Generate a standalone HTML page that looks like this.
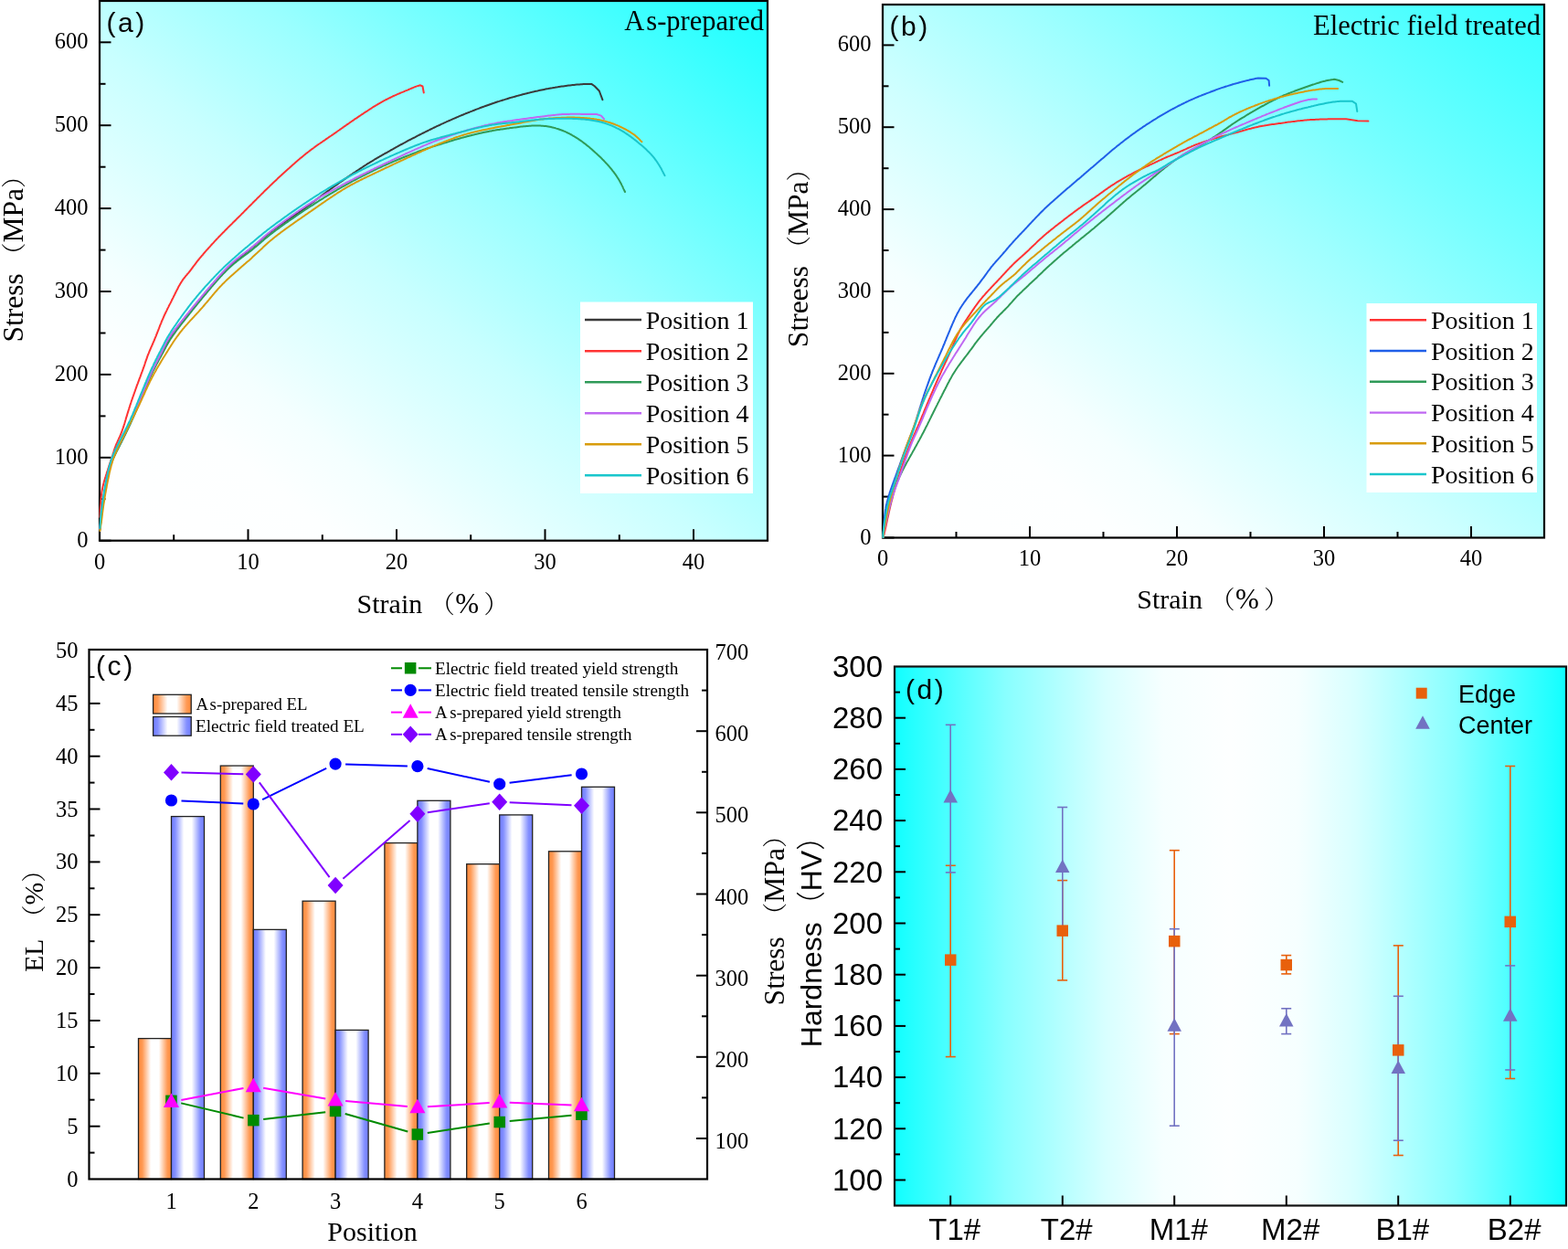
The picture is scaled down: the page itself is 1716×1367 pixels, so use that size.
<!DOCTYPE html><html><head><meta charset="utf-8"><title>Figure</title><style>html,body{margin:0;padding:0;background:#fff;}svg{display:block;}</style></head><body>
<svg width="1716" height="1367" viewBox="0 0 1716 1367">
<defs>
<linearGradient id="gA" x1="0" y1="1" x2="1" y2="0"><stop offset="0" stop-color="#ffffff"/><stop offset="0.18" stop-color="#fdffff"/><stop offset="0.26" stop-color="#f4ffff"/><stop offset="0.46" stop-color="#c8ffff"/><stop offset="0.62" stop-color="#9affff"/><stop offset="0.79" stop-color="#60ffff"/><stop offset="0.94" stop-color="#2cffff"/><stop offset="1" stop-color="#1affff"/></linearGradient>
<linearGradient id="gB2" x1="0" y1="1" x2="1" y2="0"><stop offset="0" stop-color="#ffffff"/><stop offset="0.18" stop-color="#fdffff"/><stop offset="0.26" stop-color="#f5ffff"/><stop offset="0.44" stop-color="#ccffff"/><stop offset="0.6" stop-color="#a0ffff"/><stop offset="0.75" stop-color="#74ffff"/><stop offset="0.92" stop-color="#46ffff"/><stop offset="1" stop-color="#34ffff"/></linearGradient>
<linearGradient id="gD" x1="0" y1="0" x2="1" y2="0"><stop offset="0" stop-color="#10ffff"/><stop offset="0.02" stop-color="#20ffff"/><stop offset="0.165" stop-color="#88ffff"/><stop offset="0.314" stop-color="#d8ffff"/><stop offset="0.4" stop-color="#f6ffff"/><stop offset="0.5" stop-color="#fdffff"/><stop offset="0.6" stop-color="#f6ffff"/><stop offset="0.686" stop-color="#d8ffff"/><stop offset="0.835" stop-color="#88ffff"/><stop offset="0.98" stop-color="#20ffff"/><stop offset="1" stop-color="#10ffff"/></linearGradient>
<linearGradient id="gO" x1="0" y1="0" x2="1" y2="0"><stop offset="0" stop-color="#ff8a3a"/><stop offset="0.12" stop-color="#ff9a55"/><stop offset="0.38" stop-color="#ffffff"/><stop offset="0.62" stop-color="#ffffff"/><stop offset="0.88" stop-color="#ff9a55"/><stop offset="1" stop-color="#ff8a3a"/></linearGradient>
<linearGradient id="gB" x1="0" y1="0" x2="1" y2="0"><stop offset="0" stop-color="#6f7cff"/><stop offset="0.12" stop-color="#8490ff"/><stop offset="0.38" stop-color="#ffffff"/><stop offset="0.62" stop-color="#ffffff"/><stop offset="0.88" stop-color="#8490ff"/><stop offset="1" stop-color="#6f7cff"/></linearGradient>
</defs>
<rect x="109" y="1" width="731" height="590.7" fill="url(#gA)"/>
<rect x="109" y="1" width="731" height="590.7" fill="none" stroke="#000" stroke-width="2.2"/>
<line x1="109" y1="591.7" x2="121.5" y2="591.7" stroke="#000" stroke-width="2"/>
<text x="96.5" y="598.7" font-family='"Liberation Serif", "Noto Serif CJK SC", serif' font-size="24.5" text-anchor="end" fill="#000" >0</text>
<line x1="109" y1="546.2" x2="115.5" y2="546.2" stroke="#000" stroke-width="2"/>
<line x1="109" y1="500.8" x2="121.5" y2="500.8" stroke="#000" stroke-width="2"/>
<text x="96.5" y="507.8" font-family='"Liberation Serif", "Noto Serif CJK SC", serif' font-size="24.5" text-anchor="end" fill="#000" >100</text>
<line x1="109" y1="455.4" x2="115.5" y2="455.4" stroke="#000" stroke-width="2"/>
<line x1="109" y1="409.9" x2="121.5" y2="409.9" stroke="#000" stroke-width="2"/>
<text x="96.5" y="416.9" font-family='"Liberation Serif", "Noto Serif CJK SC", serif' font-size="24.5" text-anchor="end" fill="#000" >200</text>
<line x1="109" y1="364.5" x2="115.5" y2="364.5" stroke="#000" stroke-width="2"/>
<line x1="109" y1="319" x2="121.5" y2="319" stroke="#000" stroke-width="2"/>
<text x="96.5" y="326" font-family='"Liberation Serif", "Noto Serif CJK SC", serif' font-size="24.5" text-anchor="end" fill="#000" >300</text>
<line x1="109" y1="273.6" x2="115.5" y2="273.6" stroke="#000" stroke-width="2"/>
<line x1="109" y1="228.1" x2="121.5" y2="228.1" stroke="#000" stroke-width="2"/>
<text x="96.5" y="235.1" font-family='"Liberation Serif", "Noto Serif CJK SC", serif' font-size="24.5" text-anchor="end" fill="#000" >400</text>
<line x1="109" y1="182.7" x2="115.5" y2="182.7" stroke="#000" stroke-width="2"/>
<line x1="109" y1="137.2" x2="121.5" y2="137.2" stroke="#000" stroke-width="2"/>
<text x="96.5" y="144.2" font-family='"Liberation Serif", "Noto Serif CJK SC", serif' font-size="24.5" text-anchor="end" fill="#000" >500</text>
<line x1="109" y1="91.8" x2="115.5" y2="91.8" stroke="#000" stroke-width="2"/>
<line x1="109" y1="46.3" x2="121.5" y2="46.3" stroke="#000" stroke-width="2"/>
<text x="96.5" y="53.3" font-family='"Liberation Serif", "Noto Serif CJK SC", serif' font-size="24.5" text-anchor="end" fill="#000" >600</text>
<text x="109" y="623" font-family='"Liberation Serif", "Noto Serif CJK SC", serif' font-size="24.5" text-anchor="middle" fill="#000" >0</text>
<line x1="190.2" y1="591.7" x2="190.2" y2="585.2" stroke="#000" stroke-width="2"/>
<line x1="271.5" y1="591.7" x2="271.5" y2="579.2" stroke="#000" stroke-width="2"/>
<text x="271.5" y="623" font-family='"Liberation Serif", "Noto Serif CJK SC", serif' font-size="24.5" text-anchor="middle" fill="#000" >10</text>
<line x1="352.8" y1="591.7" x2="352.8" y2="585.2" stroke="#000" stroke-width="2"/>
<line x1="434" y1="591.7" x2="434" y2="579.2" stroke="#000" stroke-width="2"/>
<text x="434" y="623" font-family='"Liberation Serif", "Noto Serif CJK SC", serif' font-size="24.5" text-anchor="middle" fill="#000" >20</text>
<line x1="515.2" y1="591.7" x2="515.2" y2="585.2" stroke="#000" stroke-width="2"/>
<line x1="596.5" y1="591.7" x2="596.5" y2="579.2" stroke="#000" stroke-width="2"/>
<text x="596.5" y="623" font-family='"Liberation Serif", "Noto Serif CJK SC", serif' font-size="24.5" text-anchor="middle" fill="#000" >30</text>
<line x1="677.8" y1="591.7" x2="677.8" y2="585.2" stroke="#000" stroke-width="2"/>
<line x1="759" y1="591.7" x2="759" y2="579.2" stroke="#000" stroke-width="2"/>
<text x="759" y="623" font-family='"Liberation Serif", "Noto Serif CJK SC", serif' font-size="24.5" text-anchor="middle" fill="#000" >40</text>
<path d="M109.4 579 L109.6 577.4 L109.7 575.8 L109.9 574.3 L110 572.9 L110.2 571.4 L110.4 570 L110.5 568.5 L110.7 567 L110.9 565.6 L111 564.1 L111.2 562.6 L111.4 561.1 L111.5 559.6 L111.7 558.1 L111.9 556.6 L112.1 555.1 L112.2 553.7 L112.4 552.2 L112.6 550.7 L112.8 549.2 L113 547.7 L113.2 546.2 L113.5 544.7 L113.7 543.3 L113.9 541.8 L114.2 540.3 L114.4 538.8 L114.7 537.3 L114.9 535.9 L115.2 534.4 L115.5 532.9 L115.7 531.4 L116 530 L116.3 528.5 L116.6 527 L116.9 525.5 L117.2 524.1 L117.5 522.6 L117.8 521.1 L118.1 519.7 L118.5 518.2 L118.8 516.8 L119.2 515.3 L119.5 513.8 L119.9 512.4 L120.3 511 L120.8 509.5 L121.2 508.1 L121.7 506.7 L122.2 505.3 L122.7 503.9 L123.3 502.5 L123.9 501.1 L124.5 499.7 L125.1 498.4 L125.8 497 L126.4 495.7 L127.1 494.4 L127.8 493 L128.5 491.7 L129.1 490.3 L129.8 489 L130.5 487.7 L131.2 486.3 L131.9 485 L132.5 483.7 L133.2 482.3 L133.9 481 L134.6 479.6 L135.2 478.3 L135.9 476.9 L136.6 475.6 L137.2 474.3 L137.9 472.9 L138.5 471.6 L139.2 470.2 L139.8 468.9 L140.5 467.5 L141.1 466.2 L141.8 464.8 L142.4 463.4 L143 462.1 L143.7 460.7 L144.3 459.3 L144.9 458 L145.5 456.6 L146.1 455.2 L146.7 453.8 L147.3 452.5 L147.9 451.1 L148.5 449.7 L149.1 448.3 L149.7 447 L150.3 445.6 L150.8 444.2 L151.4 442.8 L152 441.4 L152.6 440.1 L153.2 438.7 L153.8 437.3 L154.3 435.9 L154.9 434.5 L155.5 433.1 L156.1 431.8 L156.6 430.4 L157.2 429 L157.8 427.6 L158.3 426.2 L158.9 424.8 L159.5 423.4 L160.1 422 L160.6 420.7 L161.2 419.3 L161.8 417.9 L162.4 416.5 L163 415.1 L163.6 413.7 L164.2 412.4 L164.8 411 L165.4 409.6 L166 408.3 L166.6 406.9 L167.3 405.6 L167.9 404.2 L168.6 402.9 L169.2 401.5 L169.9 400.2 L170.6 398.8 L171.3 397.5 L171.9 396.1 L172.6 394.8 L173.3 393.5 L174 392.1 L174.7 390.8 L175.4 389.5 L176.1 388.1 L176.8 386.8 L177.4 385.5 L178.1 384.1 L178.7 382.8 L179.4 381.4 L180 380.1 L180.7 378.7 L181.4 377.4 L182.1 376.1 L182.8 374.7 L183.5 373.4 L184.2 372.1 L185 370.9 L185.8 369.6 L186.6 368.3 L187.4 367.1 L188.3 365.9 L189.2 364.6 L190 363.4 L190.9 362.2 L191.8 361 L192.8 359.8 L193.7 358.6 L194.6 357.5 L195.5 356.3 L196.4 355.1 L197.4 353.9 L198.3 352.8 L199.3 351.6 L200.2 350.4 L201.1 349.2 L202.1 348.1 L203 346.9 L204 345.8 L204.9 344.6 L205.9 343.4 L206.8 342.3 L207.8 341.1 L208.7 340 L209.7 338.8 L210.6 337.6 L211.6 336.5 L212.5 335.3 L213.5 334.2 L214.5 333 L215.4 331.9 L216.4 330.7 L217.4 329.6 L218.3 328.4 L219.3 327.3 L220.3 326.1 L221.2 325 L222.2 323.8 L223.2 322.7 L224.1 321.5 L225.1 320.4 L226.1 319.3 L227.1 318.1 L228 317 L229 315.9 L230 314.7 L231 313.6 L232 312.4 L232.9 311.3 L233.9 310.2 L234.9 309.1 L235.9 307.9 L236.9 306.8 L237.9 305.7 L238.9 304.6 L239.9 303.5 L240.9 302.4 L241.9 301.3 L243 300.2 L244 299.1 L245 298 L246.1 296.9 L247.1 295.8 L248.2 294.7 L249.2 293.7 L250.3 292.6 L251.4 291.6 L252.4 290.5 L253.5 289.5 L254.6 288.5 L255.7 287.5 L256.9 286.5 L258 285.5 L259.1 284.5 L260.3 283.6 L261.4 282.6 L262.6 281.6 L263.7 280.7 L264.9 279.8 L266.1 278.8 L267.3 277.9 L268.4 277 L269.6 276 L270.8 275.1 L271.9 274.1 L273.1 273.2 L274.3 272.3 L275.4 271.3 L276.6 270.3 L277.7 269.4 L278.9 268.4 L280 267.4 L281.2 266.5 L282.3 265.5 L283.4 264.5 L284.6 263.5 L285.7 262.6 L286.9 261.6 L288 260.6 L289.2 259.7 L290.3 258.7 L291.5 257.8 L292.6 256.8 L293.8 255.9 L295 254.9 L296.2 254 L297.4 253.1 L298.5 252.2 L299.7 251.3 L300.9 250.4 L302.2 249.5 L303.4 248.6 L304.6 247.7 L305.8 246.9 L307 246 L308.3 245.1 L309.5 244.3 L310.7 243.4 L312 242.6 L313.2 241.7 L314.4 240.9 L315.7 240 L316.9 239.2 L318.1 238.3 L319.4 237.5 L320.6 236.6 L321.9 235.8 L323.1 235 L324.3 234.1 L325.6 233.3 L326.8 232.4 L328.1 231.6 L329.3 230.7 L330.5 229.9 L331.8 229 L333 228.1 L334.2 227.3 L335.4 226.4 L336.6 225.5 L337.9 224.6 L339.1 223.8 L340.3 222.9 L341.5 222 L342.7 221.1 L343.9 220.2 L345.1 219.3 L346.3 218.4 L347.5 217.5 L348.7 216.6 L349.9 215.7 L351.1 214.8 L352.3 213.9 L353.5 213 L354.7 212.1 L355.9 211.2 L357.1 210.3 L358.3 209.4 L359.6 208.6 L360.8 207.7 L362 206.8 L363.2 205.9 L364.4 205 L365.6 204.2 L366.9 203.3 L368.1 202.4 L369.3 201.6 L370.5 200.7 L371.8 199.8 L373 199 L374.2 198.1 L375.5 197.3 L376.7 196.4 L377.9 195.6 L379.2 194.7 L380.4 193.9 L381.6 193 L382.9 192.2 L384.1 191.3 L385.4 190.5 L386.6 189.6 L387.8 188.8 L389.1 188 L390.3 187.1 L391.6 186.3 L392.8 185.5 L394.1 184.6 L395.3 183.8 L396.6 183 L397.8 182.2 L399.1 181.3 L400.4 180.5 L401.6 179.7 L402.9 178.9 L404.2 178.1 L405.4 177.3 L406.7 176.6 L408 175.8 L409.3 175 L410.6 174.2 L411.9 173.5 L413.2 172.7 L414.5 172 L415.8 171.2 L417.1 170.5 L418.4 169.7 L419.7 169 L421 168.2 L422.3 167.5 L423.6 166.8 L424.9 166 L426.2 165.3 L427.5 164.5 L428.8 163.8 L430.1 163.1 L431.4 162.3 L432.7 161.6 L434 160.9 L435.4 160.2 L436.7 159.4 L438 158.7 L439.3 158 L440.6 157.3 L441.9 156.6 L443.3 155.9 L444.6 155.2 L445.9 154.4 L447.2 153.7 L448.6 153 L449.9 152.3 L451.2 151.6 L452.5 151 L453.9 150.3 L455.2 149.6 L456.5 148.9 L457.9 148.2 L459.2 147.5 L460.6 146.8 L461.9 146.2 L463.2 145.5 L464.6 144.8 L465.9 144.1 L467.3 143.5 L468.6 142.8 L470 142.2 L471.3 141.5 L472.7 140.8 L474 140.2 L475.4 139.5 L476.7 138.9 L478.1 138.2 L479.4 137.6 L480.8 137 L482.1 136.3 L483.5 135.7 L484.9 135.1 L486.2 134.4 L487.6 133.8 L488.9 133.2 L490.3 132.6 L491.7 132 L493.1 131.4 L494.4 130.8 L495.8 130.2 L497.2 129.6 L498.6 129 L499.9 128.4 L501.3 127.8 L502.7 127.2 L504.1 126.6 L505.5 126 L506.9 125.5 L508.2 124.9 L509.6 124.3 L511 123.8 L512.4 123.2 L513.8 122.7 L515.2 122.1 L516.6 121.6 L518 121 L519.4 120.5 L520.8 119.9 L522.2 119.4 L523.6 118.9 L525 118.3 L526.4 117.8 L527.8 117.3 L529.2 116.8 L530.6 116.2 L532 115.7 L533.5 115.2 L534.9 114.7 L536.3 114.2 L537.7 113.7 L539.1 113.2 L540.5 112.8 L542 112.3 L543.4 111.8 L544.8 111.3 L546.2 110.9 L547.7 110.4 L549.1 110 L550.5 109.5 L551.9 109.1 L553.4 108.6 L554.8 108.2 L556.3 107.7 L557.7 107.3 L559.1 106.9 L560.6 106.5 L562 106.1 L563.5 105.7 L564.9 105.3 L566.3 104.9 L567.8 104.5 L569.2 104.1 L570.7 103.7 L572.1 103.3 L573.6 102.9 L575.1 102.6 L576.5 102.2 L578 101.8 L579.4 101.5 L580.9 101.1 L582.3 100.8 L583.8 100.4 L585.3 100.1 L586.7 99.8 L588.2 99.5 L589.7 99.1 L591.1 98.8 L592.6 98.5 L594.1 98.2 L595.5 97.9 L597 97.6 L598.5 97.3 L600 97.1 L601.4 96.8 L602.9 96.5 L604.4 96.3 L605.9 96 L607.3 95.8 L608.8 95.5 L610.3 95.3 L611.8 95 L613.3 94.8 L614.7 94.6 L616.2 94.4 L617.7 94.2 L619.2 94 L620.7 93.8 L622.2 93.6 L623.7 93.4 L625.2 93.2 L626.6 93 L628.1 92.9 L629.6 92.7 L631.1 92.6 L632.6 92.5 L634.1 92.4 L635.6 92.3 L637 92.2 L638.5 92.1 L640 92.1 L641.4 92.1 L642.9 92.1 L644.4 92.1 L646 92.1 L647.6 92.1 L650.7 94.3 L655.8 99.5 L659.4 109.2" fill="none" stroke="#3a3a3a" stroke-width="2" stroke-linejoin="round" stroke-linecap="round"/>
<path d="M109.4 566 L109.4 564.4 L109.5 562.8 L109.5 561.3 L109.6 559.8 L109.6 558.4 L109.7 556.9 L109.8 555.4 L109.9 554 L110 552.5 L110.1 551 L110.2 549.5 L110.3 548 L110.4 546.5 L110.6 545 L110.7 543.5 L110.9 542 L111.1 540.6 L111.3 539.1 L111.5 537.6 L111.8 536.1 L112.1 534.6 L112.4 533.2 L112.7 531.7 L113.1 530.3 L113.5 528.8 L113.8 527.4 L114.3 525.9 L114.7 524.5 L115.1 523.1 L115.6 521.6 L116 520.2 L116.5 518.8 L116.9 517.3 L117.4 515.9 L117.9 514.5 L118.3 513 L118.8 511.6 L119.3 510.2 L119.7 508.8 L120.2 507.3 L120.7 505.9 L121.2 504.5 L121.6 503.1 L122.1 501.6 L122.6 500.2 L123 498.8 L123.5 497.3 L123.9 495.9 L124.4 494.5 L124.8 493.1 L125.3 491.6 L125.8 490.2 L126.3 488.8 L126.8 487.4 L127.4 486 L128 484.7 L128.6 483.3 L129.2 481.9 L129.8 480.6 L130.4 479.2 L131.1 477.9 L131.7 476.5 L132.2 475.1 L132.8 473.7 L133.3 472.3 L133.8 470.9 L134.3 469.5 L134.8 468.1 L135.3 466.7 L135.7 465.2 L136.2 463.8 L136.6 462.4 L137 460.9 L137.5 459.5 L137.9 458 L138.3 456.6 L138.8 455.2 L139.2 453.7 L139.6 452.3 L140.1 450.9 L140.5 449.4 L141 448 L141.4 446.6 L141.9 445.1 L142.3 443.7 L142.8 442.3 L143.3 440.8 L143.7 439.4 L144.2 438 L144.7 436.6 L145.2 435.2 L145.7 433.7 L146.2 432.3 L146.7 430.9 L147.2 429.5 L147.7 428.1 L148.2 426.7 L148.7 425.2 L149.2 423.8 L149.7 422.4 L150.2 421 L150.8 419.6 L151.3 418.2 L151.8 416.8 L152.3 415.4 L152.8 414 L153.4 412.6 L153.9 411.2 L154.4 409.8 L154.9 408.3 L155.5 406.9 L156 405.5 L156.5 404.1 L157 402.7 L157.5 401.3 L158 399.9 L158.5 398.5 L158.9 397 L159.4 395.6 L159.9 394.2 L160.4 392.8 L160.9 391.4 L161.4 389.9 L161.9 388.5 L162.5 387.1 L163 385.8 L163.6 384.4 L164.2 383 L164.8 381.6 L165.4 380.2 L166 378.8 L166.6 377.5 L167.2 376.1 L167.8 374.7 L168.4 373.3 L169 372 L169.5 370.6 L170.1 369.2 L170.7 367.8 L171.2 366.4 L171.8 365 L172.3 363.6 L172.9 362.2 L173.4 360.8 L174 359.4 L174.5 358 L175 356.6 L175.6 355.2 L176.2 353.8 L176.7 352.4 L177.3 351 L177.9 349.7 L178.5 348.3 L179.1 346.9 L179.7 345.5 L180.3 344.2 L181 342.8 L181.6 341.5 L182.3 340.1 L182.9 338.8 L183.6 337.4 L184.3 336.1 L184.9 334.7 L185.6 333.4 L186.3 332.1 L187 330.7 L187.7 329.4 L188.3 328 L189 326.7 L189.7 325.4 L190.3 324 L191 322.7 L191.7 321.3 L192.3 320 L193 318.6 L193.7 317.3 L194.4 316 L195 314.6 L195.7 313.3 L196.5 312 L197.2 310.7 L198 309.4 L198.8 308.2 L199.6 306.9 L200.5 305.7 L201.4 304.5 L202.3 303.4 L203.2 302.2 L204.2 301.1 L205.1 299.9 L206.1 298.8 L207.1 297.6 L208 296.5 L208.9 295.3 L209.8 294.1 L210.7 292.9 L211.6 291.7 L212.5 290.5 L213.4 289.3 L214.3 288.1 L215.2 286.9 L216.1 285.7 L217.1 284.5 L218 283.4 L219 282.2 L219.9 281.1 L220.9 279.9 L221.9 278.8 L222.8 277.6 L223.8 276.5 L224.8 275.4 L225.8 274.2 L226.8 273.1 L227.8 272 L228.8 270.9 L229.8 269.8 L230.8 268.7 L231.8 267.5 L232.9 266.4 L233.9 265.3 L234.9 264.2 L235.9 263.1 L236.9 262 L238 260.9 L239 259.8 L240 258.8 L241.1 257.7 L242.1 256.6 L243.2 255.5 L244.2 254.4 L245.3 253.4 L246.3 252.3 L247.4 251.2 L248.4 250.2 L249.5 249.1 L250.6 248.1 L251.6 247 L252.7 245.9 L253.8 244.9 L254.8 243.8 L255.9 242.8 L257 241.7 L258 240.7 L259.1 239.6 L260.2 238.6 L261.2 237.5 L262.3 236.5 L263.4 235.4 L264.4 234.3 L265.5 233.3 L266.6 232.2 L267.6 231.1 L268.7 230.1 L269.7 229 L270.8 227.9 L271.8 226.9 L272.9 225.8 L274 224.7 L275 223.7 L276.1 222.6 L277.1 221.5 L278.2 220.5 L279.2 219.4 L280.3 218.4 L281.4 217.3 L282.4 216.2 L283.5 215.2 L284.6 214.1 L285.6 213.1 L286.7 212 L287.8 211 L288.8 209.9 L289.9 208.8 L291 207.8 L292.1 206.8 L293.1 205.7 L294.2 204.7 L295.3 203.6 L296.4 202.6 L297.5 201.5 L298.5 200.5 L299.6 199.5 L300.7 198.4 L301.8 197.4 L302.9 196.4 L304 195.3 L305.1 194.3 L306.2 193.3 L307.3 192.3 L308.4 191.2 L309.5 190.2 L310.6 189.2 L311.7 188.2 L312.8 187.2 L313.9 186.2 L315 185.2 L316.2 184.2 L317.3 183.2 L318.4 182.2 L319.5 181.2 L320.6 180.2 L321.8 179.2 L322.9 178.2 L324 177.2 L325.2 176.2 L326.3 175.3 L327.5 174.3 L328.6 173.3 L329.8 172.4 L330.9 171.4 L332.1 170.4 L333.2 169.5 L334.4 168.6 L335.6 167.6 L336.8 166.7 L338 165.8 L339.1 164.9 L340.3 164 L341.5 163.1 L342.8 162.2 L344 161.3 L345.2 160.4 L346.4 159.5 L347.6 158.7 L348.9 157.8 L350.1 157 L351.3 156.1 L352.6 155.3 L353.8 154.4 L355.1 153.6 L356.3 152.7 L357.5 151.9 L358.8 151 L360 150.2 L361.3 149.3 L362.5 148.5 L363.7 147.6 L365 146.8 L366.2 145.9 L367.4 145.1 L368.6 144.2 L369.9 143.3 L371.1 142.5 L372.3 141.6 L373.6 140.7 L374.8 139.9 L376 139 L377.2 138.1 L378.5 137.3 L379.7 136.4 L380.9 135.6 L382.2 134.7 L383.4 133.8 L384.6 133 L385.9 132.1 L387.1 131.3 L388.3 130.4 L389.6 129.6 L390.8 128.8 L392.1 127.9 L393.3 127.1 L394.6 126.2 L395.8 125.4 L397.1 124.6 L398.3 123.7 L399.6 122.9 L400.8 122.1 L402.1 121.3 L403.3 120.5 L404.6 119.6 L405.9 118.8 L407.1 118 L408.4 117.2 L409.7 116.4 L411 115.6 L412.2 114.9 L413.5 114.1 L414.8 113.3 L416.1 112.6 L417.4 111.8 L418.7 111.1 L420 110.4 L421.4 109.7 L422.7 109 L424 108.3 L425.4 107.6 L426.7 107 L428.1 106.3 L429.4 105.7 L430.8 105 L432.2 104.4 L433.5 103.8 L434.9 103.2 L436.3 102.6 L437.7 102 L439 101.4 L440.4 100.9 L441.8 100.3 L443.2 99.7 L444.6 99.1 L446 98.6 L447.3 98 L448.7 97.4 L450.1 96.8 L451.4 96.3 L452.8 95.7 L454.1 95.1 L455.5 94.6 L456.9 94.1 L458.4 93.7 L460 93.3 L462.5 94.5 L463.8 101.5" fill="none" stroke="#ff3333" stroke-width="2" stroke-linejoin="round" stroke-linecap="round"/>
<path d="M109.4 580 L109.6 578.4 L109.8 576.8 L109.9 575.3 L110.1 573.9 L110.3 572.4 L110.4 571 L110.6 569.5 L110.8 568 L110.9 566.6 L111.1 565.1 L111.3 563.6 L111.4 562.1 L111.6 560.6 L111.8 559.1 L111.9 557.6 L112.1 556.1 L112.3 554.6 L112.5 553.1 L112.7 551.6 L112.9 550.2 L113.1 548.7 L113.3 547.2 L113.5 545.7 L113.7 544.2 L113.9 542.7 L114.2 541.3 L114.4 539.8 L114.7 538.3 L114.9 536.8 L115.2 535.3 L115.5 533.9 L115.7 532.4 L116 530.9 L116.3 529.4 L116.6 528 L116.9 526.5 L117.2 525 L117.5 523.5 L117.8 522.1 L118.1 520.6 L118.5 519.1 L118.8 517.7 L119.2 516.2 L119.6 514.8 L119.9 513.3 L120.4 511.9 L120.8 510.4 L121.2 509 L121.7 507.6 L122.2 506.2 L122.8 504.8 L123.3 503.4 L123.9 502 L124.5 500.7 L125.2 499.3 L125.8 498 L126.5 496.6 L127.1 495.3 L127.8 493.9 L128.5 492.6 L129.2 491.3 L129.9 489.9 L130.6 488.6 L131.2 487.2 L131.9 485.9 L132.6 484.6 L133.3 483.2 L133.9 481.9 L134.6 480.5 L135.3 479.2 L135.9 477.8 L136.6 476.5 L137.3 475.1 L137.9 473.8 L138.6 472.4 L139.3 471.1 L139.9 469.7 L140.6 468.4 L141.2 467 L141.8 465.7 L142.5 464.3 L143.1 462.9 L143.7 461.6 L144.3 460.2 L144.9 458.8 L145.5 457.5 L146.2 456.1 L146.8 454.7 L147.4 453.3 L147.9 452 L148.5 450.6 L149.1 449.2 L149.7 447.8 L150.3 446.4 L150.9 445 L151.5 443.7 L152.1 442.3 L152.7 440.9 L153.2 439.5 L153.8 438.1 L154.4 436.7 L155 435.4 L155.6 434 L156.1 432.6 L156.7 431.2 L157.3 429.8 L157.8 428.4 L158.4 427 L159 425.6 L159.5 424.2 L160.1 422.9 L160.7 421.5 L161.3 420.1 L161.9 418.7 L162.4 417.3 L163 415.9 L163.6 414.6 L164.2 413.2 L164.9 411.8 L165.5 410.5 L166.1 409.1 L166.8 407.7 L167.4 406.4 L168.1 405 L168.8 403.7 L169.5 402.4 L170.1 401 L170.8 399.7 L171.5 398.4 L172.3 397.1 L173 395.7 L173.7 394.4 L174.4 393.1 L175.1 391.8 L175.9 390.5 L176.6 389.1 L177.3 387.8 L178 386.5 L178.7 385.2 L179.4 383.9 L180.1 382.5 L180.8 381.2 L181.5 379.9 L182.2 378.6 L183 377.2 L183.7 375.9 L184.5 374.6 L185.2 373.4 L186 372.1 L186.8 370.8 L187.6 369.6 L188.5 368.3 L189.3 367.1 L190.2 365.8 L191.1 364.6 L191.9 363.4 L192.8 362.2 L193.7 361 L194.6 359.8 L195.5 358.6 L196.5 357.4 L197.4 356.2 L198.3 355 L199.2 353.8 L200.1 352.7 L201.1 351.5 L202 350.3 L202.9 349.1 L203.9 347.9 L204.8 346.8 L205.7 345.6 L206.7 344.4 L207.6 343.2 L208.5 342.1 L209.5 340.9 L210.4 339.7 L211.3 338.5 L212.3 337.4 L213.2 336.2 L214.2 335 L215.1 333.9 L216.1 332.7 L217 331.5 L218 330.4 L218.9 329.2 L219.9 328.1 L220.8 326.9 L221.8 325.7 L222.7 324.6 L223.7 323.4 L224.7 322.3 L225.6 321.1 L226.6 320 L227.5 318.8 L228.5 317.7 L229.5 316.5 L230.5 315.4 L231.4 314.2 L232.4 313.1 L233.4 311.9 L234.4 310.8 L235.3 309.7 L236.3 308.5 L237.3 307.4 L238.3 306.3 L239.3 305.2 L240.3 304.1 L241.3 302.9 L242.4 301.8 L243.4 300.7 L244.4 299.6 L245.5 298.6 L246.5 297.5 L247.6 296.4 L248.6 295.4 L249.7 294.3 L250.8 293.3 L251.9 292.3 L253 291.3 L254.1 290.3 L255.3 289.3 L256.4 288.3 L257.6 287.4 L258.7 286.4 L259.9 285.5 L261.1 284.6 L262.3 283.6 L263.5 282.7 L264.7 281.8 L265.9 280.9 L267.1 280 L268.3 279.2 L269.5 278.3 L270.7 277.4 L271.9 276.5 L273.1 275.5 L274.3 274.6 L275.5 273.7 L276.6 272.8 L277.8 271.8 L278.9 270.8 L280.1 269.9 L281.2 268.9 L282.4 267.9 L283.5 267 L284.7 266 L285.8 265 L286.9 264 L288.1 263.1 L289.2 262.1 L290.4 261.1 L291.5 260.2 L292.7 259.2 L293.9 258.3 L295 257.3 L296.2 256.4 L297.4 255.5 L298.6 254.6 L299.8 253.6 L301 252.7 L302.2 251.8 L303.4 250.9 L304.6 250.1 L305.8 249.2 L307 248.3 L308.3 247.4 L309.5 246.5 L310.7 245.7 L311.9 244.8 L313.1 243.9 L314.4 243.1 L315.6 242.2 L316.8 241.3 L318.1 240.5 L319.3 239.6 L320.5 238.8 L321.8 237.9 L323 237.1 L324.2 236.2 L325.5 235.4 L326.7 234.5 L328 233.7 L329.2 232.8 L330.5 232 L331.7 231.2 L333 230.3 L334.2 229.5 L335.5 228.7 L336.7 227.8 L338 227 L339.2 226.2 L340.5 225.4 L341.8 224.6 L343 223.8 L344.3 222.9 L345.5 222.1 L346.8 221.3 L348.1 220.5 L349.3 219.7 L350.6 218.9 L351.9 218.1 L353.2 217.3 L354.4 216.5 L355.7 215.7 L357 215 L358.3 214.2 L359.6 213.4 L360.8 212.6 L362.1 211.8 L363.4 211.1 L364.7 210.3 L366 209.5 L367.3 208.8 L368.6 208 L369.9 207.2 L371.2 206.5 L372.5 205.7 L373.8 205 L375.1 204.2 L376.4 203.5 L377.7 202.8 L379 202 L380.3 201.3 L381.6 200.6 L383 199.9 L384.3 199.1 L385.6 198.4 L386.9 197.7 L388.2 197 L389.6 196.3 L390.9 195.6 L392.2 194.9 L393.6 194.2 L394.9 193.5 L396.2 192.8 L397.6 192.1 L398.9 191.5 L400.3 190.8 L401.6 190.1 L402.9 189.5 L404.3 188.8 L405.6 188.1 L407 187.5 L408.3 186.8 L409.7 186.2 L411 185.5 L412.4 184.9 L413.8 184.2 L415.1 183.6 L416.5 183 L417.9 182.3 L419.2 181.7 L420.6 181.1 L422 180.5 L423.3 179.9 L424.7 179.3 L426.1 178.7 L427.5 178.1 L428.8 177.5 L430.2 176.9 L431.6 176.3 L433 175.7 L434.4 175.2 L435.8 174.6 L437.2 174 L438.6 173.5 L439.9 172.9 L441.3 172.3 L442.7 171.8 L444.1 171.2 L445.5 170.7 L446.9 170.1 L448.3 169.6 L449.7 169 L451.1 168.5 L452.5 167.9 L453.9 167.4 L455.3 166.9 L456.7 166.3 L458.1 165.8 L459.5 165.3 L461 164.8 L462.4 164.2 L463.8 163.7 L465.2 163.3 L466.6 162.8 L468 162.3 L469.5 161.8 L470.9 161.4 L472.3 160.9 L473.8 160.4 L475.2 160 L476.6 159.5 L478.1 159.1 L479.5 158.6 L480.9 158.2 L482.4 157.8 L483.8 157.3 L485.2 156.9 L486.7 156.4 L488.1 156 L489.5 155.5 L491 155.1 L492.4 154.6 L493.8 154.2 L495.3 153.8 L496.7 153.3 L498.2 152.9 L499.6 152.5 L501 152.1 L502.5 151.7 L503.9 151.3 L505.4 150.9 L506.8 150.5 L508.3 150.1 L509.7 149.7 L511.2 149.3 L512.6 148.9 L514.1 148.6 L515.5 148.2 L517 147.8 L518.5 147.5 L519.9 147.1 L521.4 146.8 L522.8 146.4 L524.3 146.1 L525.8 145.8 L527.2 145.4 L528.7 145.1 L530.2 144.8 L531.7 144.5 L533.1 144.2 L534.6 143.9 L536.1 143.6 L537.5 143.4 L539 143.1 L540.5 142.8 L542 142.6 L543.5 142.3 L544.9 142.1 L546.4 141.9 L547.9 141.6 L549.4 141.4 L550.9 141.2 L552.4 141 L553.9 140.8 L555.3 140.6 L556.8 140.4 L558.3 140.1 L559.8 139.9 L561.3 139.7 L562.8 139.6 L564.3 139.4 L565.8 139.2 L567.3 139 L568.8 138.8 L570.2 138.6 L571.7 138.5 L573.2 138.3 L574.7 138.2 L576.2 138 L577.7 137.9 L579.2 137.8 L580.7 137.7 L582.2 137.6 L583.7 137.6 L585.2 137.6 L586.7 137.5 L588.2 137.6 L589.7 137.6 L591.2 137.6 L592.7 137.7 L594.2 137.8 L595.7 137.9 L597.2 138.1 L598.7 138.3 L600.1 138.5 L601.6 138.8 L603.1 139.1 L604.5 139.4 L606 139.8 L607.4 140.1 L608.9 140.6 L610.3 141 L611.7 141.5 L613.1 142 L614.5 142.5 L615.9 143 L617.3 143.6 L618.7 144.2 L620.1 144.8 L621.4 145.5 L622.8 146.1 L624.1 146.8 L625.4 147.5 L626.7 148.3 L628 149 L629.3 149.8 L630.6 150.6 L631.8 151.4 L633.1 152.2 L634.3 153.1 L635.5 153.9 L636.8 154.8 L638 155.7 L639.2 156.6 L640.4 157.5 L641.6 158.4 L642.7 159.4 L643.9 160.3 L645.1 161.2 L646.2 162.2 L647.4 163.2 L648.5 164.2 L649.6 165.2 L650.7 166.2 L651.8 167.2 L653 168.2 L654 169.2 L655.1 170.2 L656.2 171.3 L657.3 172.3 L658.4 173.4 L659.4 174.5 L660.5 175.5 L661.5 176.6 L662.5 177.7 L663.6 178.8 L664.6 179.9 L665.6 181 L666.6 182.1 L667.6 183.3 L668.5 184.4 L669.5 185.6 L670.4 186.8 L671.3 187.9 L672.2 189.1 L673.1 190.3 L674 191.6 L674.8 192.8 L675.6 194.1 L676.4 195.3 L677.2 196.6 L678 197.9 L678.7 199.2 L679.4 200.5 L680.1 201.8 L680.7 203.1 L681.4 204.4 L682 205.8 L682.6 207.1 L683.3 208.5 L684 210" fill="none" stroke="#2f9a58" stroke-width="2" stroke-linejoin="round" stroke-linecap="round"/>
<path d="M109.4 579 L109.6 577.4 L109.7 575.8 L109.8 574.3 L110 572.9 L110.1 571.4 L110.3 570 L110.4 568.5 L110.6 567 L110.8 565.5 L110.9 564.1 L111.1 562.6 L111.3 561.1 L111.4 559.6 L111.6 558.1 L111.8 556.6 L111.9 555.1 L112.1 553.6 L112.3 552.1 L112.5 550.7 L112.7 549.2 L112.9 547.7 L113.1 546.2 L113.3 544.7 L113.5 543.2 L113.8 541.8 L114 540.3 L114.3 538.8 L114.5 537.3 L114.8 535.8 L115 534.4 L115.3 532.9 L115.6 531.4 L115.8 529.9 L116.1 528.5 L116.4 527 L116.7 525.5 L117 524 L117.3 522.6 L117.6 521.1 L117.9 519.6 L118.2 518.2 L118.6 516.7 L118.9 515.3 L119.3 513.8 L119.7 512.3 L120.1 510.9 L120.5 509.5 L120.9 508 L121.4 506.6 L121.9 505.2 L122.4 503.8 L122.9 502.4 L123.5 501 L124.1 499.6 L124.7 498.3 L125.3 496.9 L126 495.6 L126.7 494.2 L127.3 492.9 L128 491.6 L128.7 490.2 L129.4 488.9 L130.1 487.6 L130.7 486.2 L131.4 484.9 L132.1 483.5 L132.8 482.2 L133.4 480.9 L134.1 479.5 L134.8 478.2 L135.5 476.8 L136.1 475.5 L136.8 474.1 L137.5 472.8 L138.1 471.4 L138.8 470.1 L139.4 468.7 L140.1 467.4 L140.7 466 L141.4 464.7 L142 463.3 L142.6 462 L143.2 460.6 L143.9 459.2 L144.5 457.9 L145.1 456.5 L145.7 455.1 L146.3 453.7 L146.9 452.4 L147.5 451 L148.1 449.6 L148.7 448.2 L149.3 446.9 L149.9 445.5 L150.5 444.1 L151 442.7 L151.6 441.3 L152.2 440 L152.8 438.6 L153.4 437.2 L154 435.8 L154.5 434.4 L155.1 433 L155.7 431.6 L156.3 430.3 L156.8 428.9 L157.4 427.5 L158 426.1 L158.5 424.7 L159.1 423.3 L159.7 421.9 L160.3 420.5 L160.8 419.2 L161.4 417.8 L162 416.4 L162.6 415 L163.2 413.6 L163.8 412.3 L164.4 410.9 L165 409.5 L165.6 408.2 L166.2 406.8 L166.9 405.4 L167.5 404.1 L168.2 402.7 L168.8 401.4 L169.5 400 L170.2 398.7 L170.8 397.3 L171.5 396 L172.2 394.7 L172.9 393.3 L173.6 392 L174.3 390.7 L174.9 389.3 L175.6 388 L176.3 386.7 L177 385.3 L177.6 384 L178.3 382.6 L178.9 381.3 L179.6 379.9 L180.2 378.6 L180.9 377.2 L181.5 375.9 L182.2 374.6 L183 373.3 L183.7 372 L184.5 370.7 L185.3 369.4 L186.1 368.2 L187 367 L187.8 365.7 L188.7 364.5 L189.6 363.3 L190.5 362.1 L191.4 360.9 L192.3 359.7 L193.2 358.5 L194.1 357.3 L195 356.1 L196 355 L196.9 353.8 L197.8 352.6 L198.8 351.4 L199.7 350.3 L200.6 349.1 L201.6 347.9 L202.5 346.7 L203.4 345.6 L204.4 344.4 L205.3 343.2 L206.3 342.1 L207.2 340.9 L208.2 339.7 L209.1 338.6 L210 337.4 L211 336.2 L211.9 335.1 L212.9 333.9 L213.8 332.8 L214.8 331.6 L215.7 330.4 L216.7 329.3 L217.6 328.1 L218.6 327 L219.6 325.8 L220.5 324.6 L221.5 323.5 L222.4 322.3 L223.4 321.2 L224.4 320 L225.3 318.9 L226.3 317.7 L227.3 316.6 L228.2 315.5 L229.2 314.3 L230.2 313.2 L231.2 312 L232.1 310.9 L233.1 309.8 L234.1 308.6 L235.1 307.5 L236.1 306.4 L237.1 305.2 L238 304.1 L239 303 L240 301.9 L241.1 300.8 L242.1 299.6 L243.1 298.5 L244.1 297.5 L245.1 296.4 L246.2 295.3 L247.2 294.2 L248.3 293.1 L249.4 292.1 L250.4 291 L251.5 290 L252.6 289 L253.7 288 L254.8 287 L256 286 L257.1 285 L258.3 284.1 L259.4 283.1 L260.6 282.2 L261.8 281.2 L262.9 280.3 L264.1 279.4 L265.3 278.5 L266.5 277.6 L267.7 276.7 L268.9 275.8 L270.1 274.9 L271.3 274 L272.5 273.1 L273.7 272.1 L274.8 271.2 L276 270.2 L277.2 269.3 L278.3 268.3 L279.5 267.4 L280.6 266.4 L281.7 265.4 L282.9 264.4 L284 263.4 L285.1 262.5 L286.3 261.5 L287.4 260.5 L288.5 259.5 L289.7 258.5 L290.8 257.6 L292 256.6 L293.1 255.6 L294.3 254.7 L295.5 253.7 L296.6 252.8 L297.8 251.9 L299 251 L300.2 250 L301.4 249.1 L302.6 248.2 L303.8 247.3 L305 246.4 L306.2 245.5 L307.4 244.6 L308.6 243.8 L309.8 242.9 L311 242 L312.2 241.1 L313.4 240.2 L314.7 239.4 L315.9 238.5 L317.1 237.6 L318.3 236.7 L319.6 235.9 L320.8 235 L322 234.2 L323.2 233.3 L324.5 232.4 L325.7 231.6 L326.9 230.7 L328.2 229.9 L329.4 229.1 L330.7 228.2 L331.9 227.4 L333.2 226.6 L334.4 225.7 L335.7 224.9 L336.9 224.1 L338.2 223.3 L339.5 222.5 L340.7 221.7 L342 220.9 L343.3 220.1 L344.6 219.3 L345.8 218.5 L347.1 217.8 L348.4 217 L349.7 216.2 L351 215.5 L352.3 214.7 L353.6 214 L354.9 213.2 L356.2 212.5 L357.5 211.7 L358.8 211 L360.1 210.3 L361.4 209.5 L362.7 208.8 L364.1 208.1 L365.4 207.3 L366.7 206.6 L368 205.9 L369.3 205.2 L370.6 204.5 L372 203.8 L373.3 203.1 L374.6 202.4 L375.9 201.6 L377.3 200.9 L378.6 200.2 L379.9 199.5 L381.2 198.8 L382.6 198.1 L383.9 197.4 L385.2 196.8 L386.6 196.1 L387.9 195.4 L389.2 194.7 L390.6 194 L391.9 193.3 L393.3 192.7 L394.6 192 L395.9 191.3 L397.3 190.6 L398.6 190 L400 189.3 L401.3 188.6 L402.7 188 L404 187.3 L405.4 186.7 L406.7 186 L408 185.4 L409.4 184.7 L410.7 184 L412.1 183.4 L413.5 182.7 L414.8 182.1 L416.2 181.4 L417.5 180.8 L418.9 180.1 L420.2 179.5 L421.6 178.8 L422.9 178.2 L424.3 177.6 L425.6 176.9 L427 176.3 L428.3 175.6 L429.7 175 L431.1 174.4 L432.4 173.7 L433.8 173.1 L435.1 172.4 L436.5 171.8 L437.9 171.2 L439.2 170.6 L440.6 169.9 L441.9 169.3 L443.3 168.7 L444.7 168 L446 167.4 L447.4 166.8 L448.8 166.2 L450.1 165.6 L451.5 164.9 L452.9 164.3 L454.2 163.7 L455.6 163.1 L457 162.5 L458.3 161.9 L459.7 161.3 L461.1 160.6 L462.5 160 L463.8 159.4 L465.2 158.9 L466.6 158.3 L468 157.7 L469.4 157.1 L470.8 156.5 L472.1 156 L473.5 155.4 L474.9 154.9 L476.3 154.3 L477.7 153.8 L479.1 153.3 L480.5 152.7 L482 152.2 L483.4 151.7 L484.8 151.2 L486.2 150.7 L487.6 150.2 L489 149.7 L490.4 149.2 L491.9 148.7 L493.3 148.3 L494.7 147.8 L496.1 147.3 L497.6 146.8 L499 146.4 L500.4 145.9 L501.8 145.4 L503.3 145 L504.7 144.5 L506.1 144.1 L507.6 143.6 L509 143.2 L510.4 142.8 L511.9 142.3 L513.3 141.9 L514.7 141.5 L516.2 141.1 L517.6 140.7 L519.1 140.3 L520.5 139.9 L522 139.5 L523.4 139.1 L524.9 138.7 L526.3 138.4 L527.8 138 L529.2 137.7 L530.7 137.3 L532.2 137 L533.6 136.7 L535.1 136.3 L536.6 136 L538 135.7 L539.5 135.4 L541 135.2 L542.5 134.9 L543.9 134.6 L545.4 134.3 L546.9 134.1 L548.4 133.8 L549.8 133.6 L551.3 133.3 L552.8 133.1 L554.3 132.9 L555.8 132.6 L557.3 132.4 L558.7 132.2 L560.2 132 L561.7 131.7 L563.2 131.5 L564.7 131.3 L566.2 131.1 L567.6 130.9 L569.1 130.7 L570.6 130.5 L572.1 130.3 L573.6 130.1 L575.1 129.9 L576.6 129.7 L578.1 129.5 L579.5 129.3 L581 129.1 L582.5 128.9 L584 128.7 L585.5 128.5 L587 128.3 L588.5 128.1 L590 127.9 L591.4 127.7 L592.9 127.6 L594.4 127.4 L595.9 127.2 L597.4 127 L598.9 126.8 L600.4 126.6 L601.9 126.4 L603.4 126.2 L604.8 126.1 L606.3 125.9 L607.8 125.7 L609.3 125.6 L610.8 125.4 L612.3 125.3 L613.8 125.2 L615.3 125.1 L616.8 125 L618.3 125 L619.8 124.9 L621.3 124.9 L622.8 124.9 L624.3 124.8 L625.8 124.8 L627.3 124.8 L628.8 124.8 L630.3 124.8 L631.8 124.8 L633.3 124.8 L634.8 124.8 L636.3 124.9 L637.8 124.9 L639.3 124.9 L640.8 124.9 L642.2 124.9 L643.7 124.9 L645.2 124.9 L646.6 124.9 L648.1 124.9 L649.6 125 L651.2 125 L652.8 125 L657.9 126.6 L661 130.2" fill="none" stroke="#bf68f2" stroke-width="2" stroke-linejoin="round" stroke-linecap="round"/>
<path d="M109.4 581 L109.6 579.4 L109.9 577.8 L110.1 576.4 L110.3 574.9 L110.5 573.5 L110.7 572 L111 570.5 L111.2 569.1 L111.4 567.6 L111.6 566.1 L111.7 564.6 L111.9 563.2 L112.1 561.7 L112.3 560.2 L112.5 558.7 L112.7 557.2 L112.9 555.7 L113.1 554.2 L113.3 552.7 L113.5 551.3 L113.8 549.8 L114 548.3 L114.2 546.8 L114.5 545.3 L114.7 543.8 L115 542.4 L115.2 540.9 L115.5 539.4 L115.8 537.9 L116 536.4 L116.3 535 L116.6 533.5 L116.8 532 L117.1 530.5 L117.4 529.1 L117.7 527.6 L118 526.1 L118.3 524.6 L118.6 523.2 L118.9 521.7 L119.2 520.2 L119.5 518.8 L119.8 517.3 L120.2 515.8 L120.5 514.4 L120.9 512.9 L121.3 511.5 L121.6 510 L122 508.6 L122.5 507.1 L122.9 505.7 L123.3 504.3 L123.8 502.8 L124.3 501.4 L124.8 500 L125.3 498.6 L125.9 497.2 L126.5 495.8 L127 494.4 L127.6 493.1 L128.3 491.7 L128.9 490.3 L129.5 489 L130.2 487.6 L130.8 486.3 L131.5 484.9 L132.2 483.6 L132.8 482.2 L133.5 480.9 L134.2 479.6 L134.9 478.2 L135.5 476.9 L136.2 475.5 L136.9 474.2 L137.6 472.9 L138.2 471.5 L138.9 470.2 L139.6 468.8 L140.2 467.5 L140.9 466.1 L141.6 464.8 L142.3 463.4 L142.9 462.1 L143.6 460.8 L144.3 459.4 L145 458.1 L145.6 456.7 L146.3 455.4 L147 454.1 L147.7 452.7 L148.3 451.4 L149 450 L149.7 448.7 L150.3 447.3 L151 446 L151.6 444.6 L152.3 443.3 L152.9 441.9 L153.5 440.5 L154.2 439.2 L154.8 437.8 L155.4 436.4 L156 435.1 L156.6 433.7 L157.3 432.3 L157.9 431 L158.5 429.6 L159.1 428.2 L159.7 426.9 L160.4 425.5 L161 424.1 L161.6 422.8 L162.3 421.4 L162.9 420.1 L163.6 418.7 L164.2 417.4 L164.9 416 L165.6 414.7 L166.3 413.4 L167 412 L167.7 410.7 L168.4 409.4 L169.1 408.1 L169.9 406.8 L170.6 405.5 L171.3 404.1 L172.1 402.8 L172.8 401.5 L173.6 400.3 L174.4 399 L175.1 397.7 L175.9 396.4 L176.7 395.1 L177.5 393.8 L178.2 392.5 L179 391.2 L179.8 390 L180.6 388.7 L181.4 387.4 L182.2 386.1 L183 384.9 L183.8 383.6 L184.6 382.3 L185.4 381 L186.2 379.8 L187 378.5 L187.8 377.2 L188.6 376 L189.4 374.7 L190.2 373.5 L191.1 372.2 L191.9 371 L192.8 369.8 L193.7 368.5 L194.6 367.3 L195.5 366.1 L196.4 364.9 L197.3 363.7 L198.2 362.6 L199.2 361.4 L200.1 360.2 L201.1 359.1 L202 357.9 L203 356.8 L204 355.7 L205 354.6 L206 353.4 L207 352.3 L208 351.2 L209 350.1 L210.1 349 L211.1 347.9 L212.1 346.8 L213.1 345.7 L214.1 344.6 L215.1 343.5 L216.2 342.4 L217.2 341.3 L218.2 340.2 L219.2 339 L220.2 337.9 L221.2 336.8 L222.2 335.7 L223.2 334.5 L224.1 333.4 L225.1 332.2 L226.1 331.1 L227 330 L228 328.8 L229 327.6 L229.9 326.5 L230.9 325.3 L231.9 324.2 L232.8 323 L233.8 321.9 L234.8 320.7 L235.7 319.6 L236.7 318.5 L237.7 317.3 L238.7 316.2 L239.7 315.1 L240.7 314 L241.8 312.9 L242.8 311.8 L243.8 310.7 L244.9 309.7 L246 308.6 L247 307.6 L248.1 306.5 L249.2 305.5 L250.3 304.5 L251.4 303.5 L252.5 302.4 L253.6 301.4 L254.8 300.4 L255.9 299.4 L257 298.5 L258.1 297.5 L259.3 296.5 L260.4 295.5 L261.5 294.5 L262.7 293.5 L263.8 292.5 L264.9 291.6 L266.1 290.6 L267.2 289.6 L268.4 288.6 L269.5 287.6 L270.6 286.6 L271.7 285.7 L272.9 284.7 L274 283.7 L275.1 282.7 L276.2 281.6 L277.3 280.6 L278.4 279.6 L279.5 278.6 L280.6 277.6 L281.7 276.5 L282.8 275.5 L283.9 274.5 L285 273.4 L286.1 272.4 L287.2 271.4 L288.3 270.3 L289.4 269.3 L290.5 268.3 L291.6 267.3 L292.7 266.3 L293.8 265.3 L295 264.3 L296.1 263.3 L297.2 262.4 L298.4 261.4 L299.6 260.5 L300.7 259.5 L301.9 258.6 L303.1 257.7 L304.3 256.8 L305.5 255.9 L306.7 254.9 L307.9 254 L309.1 253.2 L310.3 252.3 L311.5 251.4 L312.7 250.5 L313.9 249.6 L315.2 248.7 L316.4 247.9 L317.6 247 L318.8 246.1 L320.1 245.2 L321.3 244.4 L322.5 243.5 L323.7 242.7 L325 241.8 L326.2 240.9 L327.4 240.1 L328.7 239.2 L329.9 238.4 L331.1 237.5 L332.4 236.6 L333.6 235.8 L334.8 234.9 L336.1 234.1 L337.3 233.2 L338.5 232.4 L339.8 231.5 L341 230.6 L342.2 229.8 L343.5 228.9 L344.7 228.1 L345.9 227.2 L347.2 226.4 L348.4 225.5 L349.6 224.6 L350.9 223.8 L352.1 222.9 L353.3 222.1 L354.6 221.2 L355.8 220.4 L357 219.5 L358.3 218.7 L359.5 217.8 L360.8 217 L362 216.1 L363.3 215.3 L364.5 214.5 L365.8 213.6 L367 212.8 L368.3 212 L369.5 211.2 L370.8 210.4 L372.1 209.6 L373.3 208.8 L374.6 208 L375.9 207.2 L377.2 206.5 L378.5 205.7 L379.8 204.9 L381.1 204.2 L382.4 203.5 L383.7 202.7 L385 202 L386.3 201.3 L387.7 200.6 L389 199.9 L390.3 199.2 L391.7 198.5 L393 197.8 L394.4 197.2 L395.7 196.5 L397 195.8 L398.4 195.2 L399.7 194.5 L401.1 193.9 L402.5 193.2 L403.8 192.6 L405.2 191.9 L406.5 191.3 L407.9 190.6 L409.2 190 L410.6 189.3 L412 188.7 L413.3 188.1 L414.7 187.4 L416 186.8 L417.4 186.1 L418.7 185.5 L420.1 184.8 L421.4 184.2 L422.8 183.5 L424.2 182.9 L425.5 182.3 L426.9 181.6 L428.2 181 L429.6 180.3 L430.9 179.7 L432.3 179.1 L433.7 178.4 L435 177.8 L436.4 177.2 L437.8 176.5 L439.1 175.9 L440.5 175.3 L441.8 174.6 L443.2 174 L444.6 173.4 L445.9 172.7 L447.3 172.1 L448.7 171.5 L450 170.9 L451.4 170.2 L452.8 169.6 L454.1 169 L455.5 168.4 L456.9 167.7 L458.2 167.1 L459.6 166.5 L461 165.9 L462.3 165.2 L463.7 164.6 L465.1 164 L466.4 163.4 L467.8 162.8 L469.2 162.2 L470.6 161.6 L471.9 161 L473.3 160.4 L474.7 159.8 L476.1 159.2 L477.5 158.7 L478.9 158.1 L480.3 157.5 L481.6 157 L483 156.4 L484.4 155.9 L485.8 155.3 L487.2 154.8 L488.6 154.2 L490 153.7 L491.4 153.1 L492.8 152.6 L494.2 152.1 L495.7 151.6 L497.1 151 L498.5 150.5 L499.9 150 L501.3 149.6 L502.7 149.1 L504.2 148.6 L505.6 148.2 L507 147.7 L508.5 147.3 L509.9 146.9 L511.4 146.4 L512.8 146.1 L514.2 145.7 L515.7 145.3 L517.2 144.9 L518.6 144.6 L520.1 144.2 L521.5 143.9 L523 143.6 L524.5 143.2 L525.9 142.9 L527.4 142.6 L528.9 142.3 L530.3 142 L531.8 141.7 L533.3 141.4 L534.8 141.1 L536.2 140.8 L537.7 140.5 L539.2 140.2 L540.6 139.9 L542.1 139.6 L543.6 139.3 L545.1 139 L546.5 138.7 L548 138.5 L549.5 138.2 L551 137.9 L552.5 137.7 L553.9 137.4 L555.4 137.1 L556.9 136.9 L558.4 136.6 L559.8 136.3 L561.3 136.1 L562.8 135.8 L564.3 135.5 L565.7 135.2 L567.2 135 L568.7 134.7 L570.2 134.4 L571.7 134.1 L573.1 133.8 L574.6 133.5 L576.1 133.3 L577.6 133 L579 132.7 L580.5 132.4 L582 132.2 L583.5 131.9 L584.9 131.7 L586.4 131.4 L587.9 131.2 L589.4 131 L590.9 130.8 L592.4 130.6 L593.9 130.4 L595.3 130.2 L596.8 130 L598.3 129.9 L599.8 129.8 L601.3 129.6 L602.8 129.5 L604.3 129.4 L605.8 129.3 L607.3 129.2 L608.8 129.1 L610.3 129.1 L611.8 129 L613.3 128.9 L614.8 128.8 L616.3 128.8 L617.8 128.7 L619.3 128.7 L620.8 128.6 L622.3 128.6 L623.8 128.6 L625.3 128.6 L626.8 128.6 L628.3 128.6 L629.8 128.7 L631.3 128.7 L632.8 128.8 L634.3 128.8 L635.8 128.9 L637.3 129 L638.8 129.1 L640.3 129.2 L641.8 129.3 L643.3 129.4 L644.8 129.6 L646.3 129.8 L647.8 129.9 L649.3 130.1 L650.7 130.4 L652.2 130.6 L653.7 130.9 L655.2 131.1 L656.7 131.4 L658.1 131.7 L659.6 132.1 L661 132.4 L662.5 132.8 L663.9 133.2 L665.4 133.6 L666.8 134 L668.2 134.5 L669.7 135 L671.1 135.5 L672.5 136 L673.9 136.6 L675.3 137.1 L676.6 137.7 L678 138.3 L679.4 139 L680.7 139.6 L682.1 140.3 L683.4 141 L684.7 141.7 L686 142.4 L687.3 143.1 L688.6 143.9 L689.9 144.7 L691.1 145.5 L692.4 146.3 L693.6 147.2 L694.8 148 L695.9 149 L697 149.9 L698.1 150.9 L699.1 151.9 L700.2 153 L701.2 154.1 L702.4 155.3" fill="none" stroke="#d89c0c" stroke-width="2" stroke-linejoin="round" stroke-linecap="round"/>
<path d="M109.4 578 L109.5 576.4 L109.5 574.8 L109.6 573.3 L109.7 571.8 L109.8 570.4 L109.9 568.9 L110 567.4 L110.2 566 L110.3 564.5 L110.5 563 L110.6 561.5 L110.8 560 L111 558.5 L111.2 557.1 L111.4 555.6 L111.6 554.1 L111.7 552.6 L111.9 551.1 L112.2 549.6 L112.4 548.1 L112.6 546.6 L112.8 545.1 L113 543.7 L113.3 542.2 L113.5 540.7 L113.8 539.2 L114 537.7 L114.3 536.3 L114.5 534.8 L114.8 533.3 L115.1 531.8 L115.3 530.3 L115.6 528.9 L115.9 527.4 L116.2 525.9 L116.5 524.4 L116.8 523 L117.1 521.5 L117.4 520 L117.7 518.6 L118 517.1 L118.3 515.6 L118.7 514.2 L119 512.7 L119.4 511.2 L119.8 509.8 L120.2 508.3 L120.6 506.9 L121 505.5 L121.5 504 L121.9 502.6 L122.4 501.2 L123 499.8 L123.5 498.4 L124.1 497 L124.7 495.6 L125.3 494.3 L125.9 492.9 L126.5 491.5 L127.2 490.2 L127.9 488.8 L128.5 487.5 L129.2 486.1 L129.9 484.8 L130.5 483.5 L131.2 482.1 L131.9 480.8 L132.6 479.4 L133.2 478.1 L133.9 476.8 L134.6 475.4 L135.3 474.1 L136 472.8 L136.7 471.4 L137.3 470.1 L138 468.7 L138.7 467.4 L139.4 466 L140 464.7 L140.7 463.3 L141.3 462 L142 460.6 L142.6 459.3 L143.2 457.9 L143.8 456.5 L144.4 455.1 L145 453.8 L145.6 452.4 L146.2 451 L146.8 449.6 L147.3 448.2 L147.9 446.8 L148.5 445.4 L149.1 444.1 L149.6 442.7 L150.2 441.3 L150.8 439.9 L151.3 438.5 L151.9 437.1 L152.5 435.7 L153 434.3 L153.6 432.9 L154.2 431.5 L154.7 430.2 L155.3 428.8 L155.9 427.4 L156.4 426 L157 424.6 L157.6 423.2 L158.1 421.8 L158.7 420.4 L159.3 419 L159.9 417.6 L160.4 416.2 L161 414.9 L161.6 413.5 L162.2 412.1 L162.8 410.7 L163.4 409.3 L164 408 L164.6 406.6 L165.2 405.2 L165.8 403.8 L166.4 402.5 L167.1 401.1 L167.7 399.8 L168.3 398.4 L169 397 L169.7 395.7 L170.3 394.3 L171 393 L171.7 391.7 L172.3 390.3 L173 389 L173.7 387.6 L174.4 386.3 L175.1 385 L175.8 383.6 L176.4 382.3 L177.1 381 L177.8 379.6 L178.5 378.3 L179.2 376.9 L179.8 375.6 L180.5 374.3 L181.2 372.9 L182 371.6 L182.7 370.3 L183.4 369 L184.2 367.7 L185 366.4 L185.8 365.2 L186.6 363.9 L187.4 362.6 L188.2 361.4 L189 360.1 L189.9 358.9 L190.7 357.6 L191.6 356.4 L192.4 355.2 L193.3 353.9 L194.1 352.7 L195 351.4 L195.8 350.2 L196.7 349 L197.6 347.8 L198.5 346.5 L199.3 345.3 L200.2 344.1 L201.1 342.9 L202 341.7 L202.9 340.5 L203.8 339.3 L204.7 338.1 L205.6 336.9 L206.5 335.7 L207.4 334.5 L208.3 333.3 L209.2 332.1 L210.2 330.9 L211.1 329.7 L212.1 328.6 L213 327.4 L214 326.3 L214.9 325.1 L215.9 323.9 L216.8 322.8 L217.8 321.7 L218.8 320.5 L219.8 319.4 L220.8 318.2 L221.8 317.1 L222.7 316 L223.7 314.9 L224.7 313.7 L225.7 312.6 L226.8 311.5 L227.8 310.4 L228.8 309.3 L229.8 308.2 L230.8 307.1 L231.8 306 L232.9 304.9 L233.9 303.8 L234.9 302.7 L236 301.6 L237 300.5 L238.1 299.5 L239.1 298.4 L240.2 297.3 L241.2 296.2 L242.3 295.2 L243.4 294.1 L244.4 293.1 L245.5 292 L246.6 291 L247.7 289.9 L248.8 288.9 L249.9 287.9 L251 286.9 L252.1 285.9 L253.2 284.9 L254.3 283.9 L255.4 282.9 L256.6 281.9 L257.7 280.9 L258.8 279.9 L260 278.9 L261.1 277.9 L262.2 276.9 L263.4 276 L264.5 275 L265.7 274 L266.8 273.1 L268 272.1 L269.1 271.1 L270.3 270.2 L271.4 269.2 L272.6 268.3 L273.7 267.3 L274.9 266.3 L276.1 265.4 L277.2 264.4 L278.4 263.4 L279.5 262.5 L280.7 261.5 L281.8 260.5 L283 259.6 L284.1 258.6 L285.3 257.7 L286.5 256.7 L287.6 255.8 L288.8 254.8 L290 253.9 L291.2 253 L292.3 252.1 L293.5 251.1 L294.7 250.2 L295.9 249.3 L297.1 248.4 L298.3 247.5 L299.5 246.6 L300.7 245.7 L301.9 244.8 L303.1 243.9 L304.3 243 L305.6 242.1 L306.8 241.3 L308 240.4 L309.2 239.5 L310.4 238.6 L311.6 237.7 L312.9 236.9 L314.1 236 L315.3 235.1 L316.5 234.2 L317.8 233.4 L319 232.5 L320.2 231.6 L321.4 230.8 L322.7 229.9 L323.9 229.1 L325.1 228.2 L326.4 227.4 L327.6 226.5 L328.9 225.7 L330.1 224.8 L331.3 224 L332.6 223.1 L333.8 222.3 L335.1 221.5 L336.3 220.6 L337.6 219.8 L338.8 219 L340.1 218.1 L341.4 217.3 L342.6 216.5 L343.9 215.7 L345.2 214.9 L346.4 214.1 L347.7 213.3 L349 212.5 L350.2 211.7 L351.5 210.9 L352.8 210.1 L354.1 209.3 L355.4 208.5 L356.6 207.8 L357.9 207 L359.2 206.2 L360.5 205.4 L361.8 204.7 L363.1 203.9 L364.4 203.1 L365.7 202.4 L367 201.6 L368.3 200.9 L369.6 200.1 L370.9 199.4 L372.2 198.6 L373.5 197.9 L374.8 197.2 L376.1 196.4 L377.4 195.7 L378.8 195 L380.1 194.3 L381.4 193.5 L382.7 192.8 L384 192.1 L385.4 191.4 L386.7 190.7 L388 190 L389.3 189.3 L390.7 188.6 L392 187.9 L393.4 187.2 L394.7 186.6 L396 185.9 L397.4 185.2 L398.7 184.5 L400.1 183.9 L401.4 183.2 L402.8 182.5 L404.1 181.9 L405.5 181.2 L406.8 180.6 L408.2 179.9 L409.5 179.3 L410.9 178.6 L412.2 178 L413.6 177.3 L414.9 176.7 L416.3 176 L417.7 175.4 L419 174.8 L420.4 174.1 L421.8 173.5 L423.1 172.9 L424.5 172.3 L425.9 171.7 L427.2 171 L428.6 170.4 L430 169.8 L431.4 169.2 L432.7 168.6 L434.1 168 L435.5 167.4 L436.9 166.8 L438.2 166.2 L439.6 165.6 L441 165 L442.4 164.4 L443.8 163.8 L445.2 163.3 L446.5 162.7 L447.9 162.1 L449.3 161.5 L450.7 161 L452.1 160.4 L453.5 159.8 L454.9 159.3 L456.3 158.7 L457.7 158.2 L459.1 157.7 L460.5 157.1 L461.9 156.6 L463.3 156.1 L464.7 155.6 L466.2 155.2 L467.6 154.7 L469 154.2 L470.5 153.8 L471.9 153.3 L473.3 152.9 L474.8 152.5 L476.2 152.1 L477.7 151.7 L479.1 151.3 L480.6 150.9 L482 150.4 L483.4 150 L484.9 149.6 L486.3 149.3 L487.8 148.9 L489.2 148.5 L490.7 148.1 L492.1 147.7 L493.6 147.3 L495.1 146.9 L496.5 146.5 L498 146.2 L499.4 145.8 L500.9 145.4 L502.3 145 L503.8 144.7 L505.2 144.3 L506.7 143.9 L508.2 143.6 L509.6 143.2 L511.1 142.8 L512.5 142.4 L514 142.1 L515.4 141.7 L516.9 141.3 L518.3 141 L519.8 140.6 L521.3 140.3 L522.7 139.9 L524.2 139.6 L525.6 139.2 L527.1 138.9 L528.6 138.6 L530 138.2 L531.5 137.9 L533 137.7 L534.5 137.4 L535.9 137.1 L537.4 136.9 L538.9 136.6 L540.4 136.4 L541.9 136.2 L543.4 136 L544.9 135.8 L546.3 135.6 L547.8 135.5 L549.3 135.3 L550.8 135.1 L552.3 135 L553.8 134.8 L555.3 134.7 L556.8 134.5 L558.3 134.4 L559.8 134.2 L561.3 134 L562.8 133.9 L564.3 133.7 L565.8 133.5 L567.3 133.4 L568.7 133.2 L570.2 133 L571.7 132.8 L573.2 132.6 L574.7 132.4 L576.2 132.2 L577.7 132.1 L579.2 131.9 L580.7 131.7 L582.2 131.5 L583.7 131.4 L585.2 131.2 L586.6 131 L588.1 130.9 L589.6 130.8 L591.1 130.6 L592.6 130.5 L594.1 130.4 L595.6 130.3 L597.1 130.2 L598.6 130.2 L600.1 130.1 L601.6 130 L603.1 130 L604.6 129.9 L606.1 129.9 L607.6 129.8 L609.1 129.8 L610.6 129.8 L612.1 129.8 L613.6 129.8 L615.1 129.7 L616.7 129.7 L618.2 129.7 L619.7 129.7 L621.2 129.8 L622.7 129.8 L624.2 129.8 L625.7 129.8 L627.2 129.9 L628.7 129.9 L630.2 130 L631.7 130.1 L633.2 130.2 L634.7 130.3 L636.2 130.4 L637.7 130.5 L639.2 130.6 L640.6 130.8 L642.1 131 L643.6 131.1 L645.1 131.3 L646.6 131.5 L648.1 131.7 L649.6 132 L651.1 132.2 L652.5 132.5 L654 132.8 L655.5 133.1 L656.9 133.4 L658.4 133.8 L659.8 134.2 L661.3 134.6 L662.7 135.1 L664.1 135.6 L665.5 136.1 L666.9 136.6 L668.3 137.1 L669.7 137.7 L671.1 138.3 L672.4 138.9 L673.8 139.6 L675.1 140.3 L676.5 140.9 L677.8 141.7 L679.1 142.4 L680.4 143.1 L681.7 143.9 L683 144.7 L684.2 145.5 L685.5 146.3 L686.7 147.1 L688 148 L689.2 148.9 L690.4 149.7 L691.6 150.6 L692.8 151.5 L694 152.5 L695.2 153.4 L696.4 154.3 L697.5 155.3 L698.7 156.2 L699.8 157.2 L701 158.1 L702.1 159.1 L703.3 160.1 L704.4 161.1 L705.5 162.1 L706.6 163.1 L707.7 164.1 L708.8 165.2 L709.9 166.2 L710.9 167.3 L712 168.4 L713 169.5 L714 170.6 L714.9 171.7 L715.9 172.9 L716.8 174.1 L717.7 175.3 L718.6 176.5 L719.4 177.7 L720.2 179 L721 180.2 L721.8 181.5 L722.5 182.8 L723.3 184 L724 185.3 L724.6 186.6 L725.3 187.9 L726 189.3 L726.7 190.6 L727.5 192.1" fill="none" stroke="#19c6cc" stroke-width="2" stroke-linejoin="round" stroke-linecap="round"/>
<rect x="635" y="330.5" width="189" height="209.5" fill="#fff"/>
<line x1="640" y1="350" x2="702" y2="350" stroke="#3a3a3a" stroke-width="2.4"/>
<text x="706.8" y="359.5" font-family='"Liberation Serif", "Noto Serif CJK SC", serif' font-size="28" text-anchor="start" fill="#000" >Position 1</text>
<line x1="640" y1="384.3" x2="702" y2="384.3" stroke="#ff3333" stroke-width="2.4"/>
<text x="706.8" y="393.8" font-family='"Liberation Serif", "Noto Serif CJK SC", serif' font-size="28" text-anchor="start" fill="#000" >Position 2</text>
<line x1="640" y1="418.3" x2="702" y2="418.3" stroke="#2f9a58" stroke-width="2.4"/>
<text x="706.8" y="427.8" font-family='"Liberation Serif", "Noto Serif CJK SC", serif' font-size="28" text-anchor="start" fill="#000" >Position 3</text>
<line x1="640" y1="452.3" x2="702" y2="452.3" stroke="#bf68f2" stroke-width="2.4"/>
<text x="706.8" y="461.8" font-family='"Liberation Serif", "Noto Serif CJK SC", serif' font-size="28" text-anchor="start" fill="#000" >Position 4</text>
<line x1="640" y1="486.3" x2="702" y2="486.3" stroke="#d89c0c" stroke-width="2.4"/>
<text x="706.8" y="495.8" font-family='"Liberation Serif", "Noto Serif CJK SC", serif' font-size="28" text-anchor="start" fill="#000" >Position 5</text>
<line x1="640" y1="520.3" x2="702" y2="520.3" stroke="#19c6cc" stroke-width="2.4"/>
<text x="706.8" y="529.8" font-family='"Liberation Serif", "Noto Serif CJK SC", serif' font-size="28" text-anchor="start" fill="#000" >Position 6</text>
<text x="390.6" y="671" font-family='"Liberation Serif", "Noto Serif CJK SC", serif' font-size="30" text-anchor="start" fill="#000" >Strain <tspan font-weight="300" font-size="27" dx="1">（</tspan><tspan font-size="31" dx="0.5">%</tspan><tspan font-weight="300" font-size="27" dx="5.5">）</tspan></text>
<text transform="translate(25 276.7) rotate(-90)" font-family='"Liberation Serif", "Noto Serif CJK SC", serif' font-size="31.5" text-anchor="middle">Stress<tspan font-weight="300" font-size="27" dx="6.7">（</tspan>MPa<tspan font-weight="300" font-size="27">）</tspan></text>
<text x="116.5" y="35" font-family='"Liberation Sans", "Noto Sans CJK SC", sans-serif' font-size="30" text-anchor="start" fill="#000" letter-spacing="2.6">(a)</text>
<text x="836" y="33" font-family='"Liberation Serif", "Noto Serif CJK SC", serif' font-size="30.5" text-anchor="end" fill="#000" >A<tspan dx="2">s-prepared</tspan></text>
<rect x="966" y="5" width="724" height="583.5" fill="url(#gB2)"/>
<rect x="966" y="5" width="724" height="583.5" fill="none" stroke="#000" stroke-width="2.2"/>
<line x1="966" y1="588.5" x2="978.5" y2="588.5" stroke="#000" stroke-width="2"/>
<text x="953.5" y="595.5" font-family='"Liberation Serif", "Noto Serif CJK SC", serif' font-size="24.5" text-anchor="end" fill="#000" >0</text>
<line x1="966" y1="543.6" x2="972.5" y2="543.6" stroke="#000" stroke-width="2"/>
<line x1="966" y1="498.6" x2="978.5" y2="498.6" stroke="#000" stroke-width="2"/>
<text x="953.5" y="505.6" font-family='"Liberation Serif", "Noto Serif CJK SC", serif' font-size="24.5" text-anchor="end" fill="#000" >100</text>
<line x1="966" y1="453.7" x2="972.5" y2="453.7" stroke="#000" stroke-width="2"/>
<line x1="966" y1="408.8" x2="978.5" y2="408.8" stroke="#000" stroke-width="2"/>
<text x="953.5" y="415.8" font-family='"Liberation Serif", "Noto Serif CJK SC", serif' font-size="24.5" text-anchor="end" fill="#000" >200</text>
<line x1="966" y1="363.9" x2="972.5" y2="363.9" stroke="#000" stroke-width="2"/>
<line x1="966" y1="318.9" x2="978.5" y2="318.9" stroke="#000" stroke-width="2"/>
<text x="953.5" y="325.9" font-family='"Liberation Serif", "Noto Serif CJK SC", serif' font-size="24.5" text-anchor="end" fill="#000" >300</text>
<line x1="966" y1="274" x2="972.5" y2="274" stroke="#000" stroke-width="2"/>
<line x1="966" y1="229.1" x2="978.5" y2="229.1" stroke="#000" stroke-width="2"/>
<text x="953.5" y="236.1" font-family='"Liberation Serif", "Noto Serif CJK SC", serif' font-size="24.5" text-anchor="end" fill="#000" >400</text>
<line x1="966" y1="184.2" x2="972.5" y2="184.2" stroke="#000" stroke-width="2"/>
<line x1="966" y1="139.2" x2="978.5" y2="139.2" stroke="#000" stroke-width="2"/>
<text x="953.5" y="146.2" font-family='"Liberation Serif", "Noto Serif CJK SC", serif' font-size="24.5" text-anchor="end" fill="#000" >500</text>
<line x1="966" y1="94.3" x2="972.5" y2="94.3" stroke="#000" stroke-width="2"/>
<line x1="966" y1="49.4" x2="978.5" y2="49.4" stroke="#000" stroke-width="2"/>
<text x="953.5" y="56.4" font-family='"Liberation Serif", "Noto Serif CJK SC", serif' font-size="24.5" text-anchor="end" fill="#000" >600</text>
<text x="966" y="618.5" font-family='"Liberation Serif", "Noto Serif CJK SC", serif' font-size="24.5" text-anchor="middle" fill="#000" >0</text>
<line x1="1046.5" y1="588.5" x2="1046.5" y2="582" stroke="#000" stroke-width="2"/>
<line x1="1127" y1="588.5" x2="1127" y2="576" stroke="#000" stroke-width="2"/>
<text x="1127" y="618.5" font-family='"Liberation Serif", "Noto Serif CJK SC", serif' font-size="24.5" text-anchor="middle" fill="#000" >10</text>
<line x1="1207.5" y1="588.5" x2="1207.5" y2="582" stroke="#000" stroke-width="2"/>
<line x1="1288" y1="588.5" x2="1288" y2="576" stroke="#000" stroke-width="2"/>
<text x="1288" y="618.5" font-family='"Liberation Serif", "Noto Serif CJK SC", serif' font-size="24.5" text-anchor="middle" fill="#000" >20</text>
<line x1="1368.5" y1="588.5" x2="1368.5" y2="582" stroke="#000" stroke-width="2"/>
<line x1="1449" y1="588.5" x2="1449" y2="576" stroke="#000" stroke-width="2"/>
<text x="1449" y="618.5" font-family='"Liberation Serif", "Noto Serif CJK SC", serif' font-size="24.5" text-anchor="middle" fill="#000" >30</text>
<line x1="1529.5" y1="588.5" x2="1529.5" y2="582" stroke="#000" stroke-width="2"/>
<line x1="1610" y1="588.5" x2="1610" y2="576" stroke="#000" stroke-width="2"/>
<text x="1610" y="618.5" font-family='"Liberation Serif", "Noto Serif CJK SC", serif' font-size="24.5" text-anchor="middle" fill="#000" >40</text>
<path d="M966.5 588 L967 586.4 L967.5 585 L967.8 583.5 L968.2 582.1 L968.5 580.7 L968.8 579.2 L969.2 577.8 L969.5 576.4 L969.8 574.9 L970.1 573.4 L970.4 572 L970.7 570.5 L971 569 L971.3 567.6 L971.7 566.1 L972 564.6 L972.3 563.2 L972.6 561.7 L972.9 560.2 L973.3 558.8 L973.6 557.3 L973.9 555.9 L974.3 554.4 L974.6 552.9 L975 551.5 L975.3 550 L975.7 548.6 L976.1 547.1 L976.5 545.7 L976.8 544.2 L977.2 542.8 L977.6 541.3 L978 539.9 L978.4 538.4 L978.9 537 L979.3 535.6 L979.7 534.1 L980.1 532.7 L980.5 531.2 L981 529.8 L981.4 528.4 L981.9 526.9 L982.3 525.5 L982.7 524.1 L983.2 522.6 L983.6 521.2 L984.1 519.8 L984.5 518.3 L985 516.9 L985.5 515.5 L985.9 514.1 L986.4 512.6 L986.9 511.2 L987.4 509.8 L987.8 508.4 L988.3 507 L988.8 505.5 L989.3 504.1 L989.8 502.7 L990.3 501.3 L990.8 499.9 L991.3 498.5 L991.9 497.1 L992.4 495.7 L992.9 494.3 L993.5 492.9 L994 491.5 L994.5 490.1 L995.1 488.7 L995.6 487.3 L996.2 485.9 L996.8 484.5 L997.4 483.1 L997.9 481.7 L998.5 480.3 L999.1 479 L999.7 477.6 L1000.3 476.2 L1000.9 474.8 L1001.5 473.5 L1002.1 472.1 L1002.7 470.7 L1003.3 469.3 L1003.9 467.9 L1004.5 466.6 L1005.1 465.2 L1005.7 463.8 L1006.2 462.4 L1006.8 461.1 L1007.4 459.7 L1008 458.3 L1008.6 456.9 L1009.2 455.5 L1009.7 454.1 L1010.3 452.8 L1010.9 451.4 L1011.5 450 L1012 448.6 L1012.6 447.2 L1013.2 445.8 L1013.8 444.4 L1014.3 443.1 L1014.9 441.7 L1015.5 440.3 L1016.1 438.9 L1016.7 437.5 L1017.2 436.1 L1017.8 434.8 L1018.4 433.4 L1019 432 L1019.6 430.6 L1020.2 429.2 L1020.8 427.9 L1021.4 426.5 L1021.9 425.1 L1022.5 423.7 L1023.1 422.3 L1023.7 421 L1024.3 419.6 L1024.9 418.2 L1025.5 416.8 L1026.1 415.5 L1026.7 414.1 L1027.3 412.7 L1028 411.4 L1028.6 410 L1029.2 408.6 L1029.8 407.3 L1030.4 405.9 L1031 404.5 L1031.7 403.2 L1032.3 401.8 L1032.9 400.4 L1033.6 399.1 L1034.2 397.7 L1034.8 396.4 L1035.5 395 L1036.1 393.6 L1036.7 392.3 L1037.3 390.9 L1038 389.5 L1038.6 388.2 L1039.2 386.8 L1039.8 385.4 L1040.4 384.1 L1041 382.7 L1041.6 381.3 L1042.2 379.9 L1042.8 378.5 L1043.4 377.2 L1043.9 375.8 L1044.5 374.4 L1045.1 373 L1045.7 371.6 L1046.3 370.3 L1046.9 368.9 L1047.5 367.5 L1048.2 366.2 L1048.8 364.8 L1049.5 363.5 L1050.2 362.1 L1050.9 360.8 L1051.6 359.5 L1052.3 358.2 L1053.1 356.9 L1053.9 355.6 L1054.7 354.4 L1055.5 353.1 L1056.3 351.9 L1057.1 350.6 L1058 349.4 L1058.8 348.1 L1059.6 346.9 L1060.5 345.6 L1061.3 344.4 L1062.1 343.1 L1063 341.9 L1063.8 340.6 L1064.6 339.4 L1065.5 338.2 L1066.3 336.9 L1067.2 335.7 L1068 334.5 L1068.9 333.3 L1069.8 332.1 L1070.7 330.9 L1071.6 329.7 L1072.6 328.5 L1073.5 327.3 L1074.5 326.2 L1075.4 325 L1076.4 323.9 L1077.4 322.8 L1078.4 321.6 L1079.4 320.5 L1080.4 319.4 L1081.4 318.3 L1082.4 317.2 L1083.5 316.1 L1084.5 315 L1085.5 313.9 L1086.5 312.8 L1087.6 311.7 L1088.6 310.6 L1089.6 309.6 L1090.7 308.5 L1091.7 307.4 L1092.7 306.3 L1093.7 305.2 L1094.8 304.1 L1095.8 303 L1096.8 301.9 L1097.8 300.8 L1098.9 299.7 L1099.9 298.6 L1100.9 297.5 L1101.9 296.4 L1102.9 295.3 L1104 294.2 L1105 293.1 L1106.1 292.1 L1107.1 291 L1108.2 289.9 L1109.2 288.9 L1110.3 287.8 L1111.4 286.8 L1112.5 285.8 L1113.6 284.8 L1114.7 283.8 L1115.8 282.8 L1116.9 281.8 L1118.1 280.8 L1119.2 279.8 L1120.3 278.8 L1121.4 277.8 L1122.5 276.7 L1123.6 275.7 L1124.7 274.7 L1125.8 273.7 L1126.9 272.6 L1128 271.6 L1129 270.5 L1130.1 269.5 L1131.2 268.5 L1132.3 267.4 L1133.4 266.4 L1134.4 265.4 L1135.5 264.3 L1136.6 263.3 L1137.7 262.3 L1138.8 261.3 L1140 260.3 L1141.1 259.3 L1142.2 258.3 L1143.3 257.3 L1144.5 256.3 L1145.6 255.3 L1146.8 254.4 L1147.9 253.4 L1149.1 252.5 L1150.2 251.5 L1151.4 250.6 L1152.6 249.7 L1153.8 248.7 L1154.9 247.8 L1156.1 246.9 L1157.3 246 L1158.5 245 L1159.7 244.1 L1160.9 243.2 L1162.1 242.3 L1163.2 241.4 L1164.4 240.4 L1165.6 239.5 L1166.8 238.6 L1168 237.7 L1169.2 236.8 L1170.4 235.9 L1171.6 235 L1172.8 234.1 L1174 233.2 L1175.2 232.3 L1176.4 231.4 L1177.6 230.5 L1178.8 229.6 L1180 228.7 L1181.2 227.9 L1182.5 227 L1183.7 226.1 L1184.9 225.2 L1186.1 224.4 L1187.4 223.5 L1188.6 222.7 L1189.8 221.8 L1191.1 221 L1192.3 220.1 L1193.5 219.3 L1194.8 218.4 L1196 217.6 L1197.3 216.7 L1198.5 215.9 L1199.7 215 L1200.9 214.1 L1202.2 213.3 L1203.4 212.4 L1204.6 211.5 L1205.8 210.6 L1207 209.8 L1208.2 208.9 L1209.4 208 L1210.7 207.1 L1211.9 206.3 L1213.1 205.4 L1214.4 204.6 L1215.6 203.7 L1216.9 202.9 L1218.1 202.1 L1219.4 201.3 L1220.6 200.5 L1221.9 199.7 L1223.2 198.9 L1224.5 198.1 L1225.8 197.4 L1227.1 196.6 L1228.4 195.9 L1229.7 195.1 L1231 194.4 L1232.3 193.7 L1233.6 192.9 L1234.9 192.2 L1236.2 191.5 L1237.6 190.8 L1238.9 190.1 L1240.2 189.4 L1241.5 188.7 L1242.9 188 L1244.2 187.3 L1245.6 186.6 L1246.9 186 L1248.2 185.3 L1249.6 184.7 L1250.9 184 L1252.3 183.4 L1253.7 182.7 L1255 182.1 L1256.4 181.5 L1257.7 180.8 L1259.1 180.2 L1260.5 179.6 L1261.8 178.9 L1263.2 178.3 L1264.5 177.6 L1265.9 177 L1267.2 176.4 L1268.6 175.7 L1270 175.1 L1271.3 174.5 L1272.7 173.8 L1274.1 173.2 L1275.4 172.6 L1276.8 172 L1278.2 171.4 L1279.6 170.9 L1280.9 170.3 L1282.3 169.7 L1283.7 169.2 L1285.1 168.6 L1286.5 168 L1287.9 167.5 L1289.3 166.9 L1290.7 166.3 L1292 165.7 L1293.4 165.1 L1294.8 164.5 L1296.1 163.9 L1297.5 163.3 L1298.9 162.6 L1300.2 162 L1301.6 161.4 L1303 160.8 L1304.3 160.1 L1305.7 159.6 L1307.1 159 L1308.5 158.4 L1309.9 157.9 L1311.3 157.4 L1312.7 156.8 L1314.1 156.4 L1315.5 155.9 L1316.9 155.4 L1318.4 154.9 L1319.8 154.5 L1321.2 154 L1322.7 153.6 L1324.1 153.1 L1325.5 152.7 L1327 152.3 L1328.4 151.8 L1329.8 151.4 L1331.3 151 L1332.7 150.5 L1334.2 150.1 L1335.6 149.7 L1337 149.3 L1338.5 148.9 L1339.9 148.5 L1341.4 148.1 L1342.8 147.7 L1344.3 147.4 L1345.7 147 L1347.2 146.6 L1348.6 146.2 L1350.1 145.8 L1351.5 145.5 L1353 145.1 L1354.4 144.7 L1355.9 144.3 L1357.3 143.9 L1358.8 143.5 L1360.2 143 L1361.7 142.6 L1363.1 142.2 L1364.5 141.8 L1366 141.4 L1367.4 141 L1368.9 140.7 L1370.3 140.3 L1371.8 139.9 L1373.2 139.6 L1374.7 139.2 L1376.2 138.9 L1377.6 138.6 L1379.1 138.3 L1380.6 138 L1382 137.7 L1383.5 137.5 L1385 137.2 L1386.5 137 L1388 136.7 L1389.4 136.5 L1390.9 136.3 L1392.4 136.1 L1393.9 135.9 L1395.4 135.7 L1396.9 135.5 L1398.4 135.3 L1399.8 135.1 L1401.3 134.9 L1402.8 134.7 L1404.3 134.5 L1405.8 134.3 L1407.3 134 L1408.8 133.8 L1410.3 133.6 L1411.7 133.4 L1413.2 133.2 L1414.7 133.1 L1416.2 132.9 L1417.7 132.7 L1419.2 132.5 L1420.7 132.3 L1422.2 132.2 L1423.7 132 L1425.1 131.9 L1426.6 131.7 L1428.1 131.6 L1429.6 131.5 L1431.1 131.3 L1432.6 131.2 L1434.1 131.1 L1435.6 131 L1437.1 131 L1438.6 130.9 L1440.1 130.8 L1441.6 130.7 L1443.1 130.7 L1444.6 130.6 L1446.1 130.6 L1447.6 130.5 L1449.1 130.5 L1450.6 130.4 L1452.1 130.4 L1453.6 130.3 L1455.1 130.3 L1456.6 130.3 L1458.1 130.3 L1459.6 130.3 L1461.1 130.2 L1462.5 130.2 L1464 130.2 L1465.5 130.2 L1466.9 130.2 L1468.4 130.3 L1469.9 130.3 L1471.5 130.3 L1473.1 130.3 L1485.9 132.2 L1497.4 132.6" fill="none" stroke="#ff3333" stroke-width="2" stroke-linejoin="round" stroke-linecap="round"/>
<path d="M966.2 588 L966.5 586.4 L966.7 584.9 L966.8 583.4 L966.9 581.9 L967 580.4 L967.1 579 L967.2 577.5 L967.3 576 L967.4 574.5 L967.5 573.1 L967.6 571.6 L967.7 570.1 L967.8 568.6 L967.9 567.1 L968.1 565.6 L968.2 564.1 L968.4 562.6 L968.6 561.1 L968.8 559.6 L969 558.1 L969.3 556.7 L969.5 555.2 L969.8 553.7 L970.1 552.2 L970.5 550.8 L970.8 549.3 L971.2 547.9 L971.6 546.4 L972 545 L972.4 543.5 L972.8 542.1 L973.3 540.6 L973.7 539.2 L974.2 537.8 L974.7 536.4 L975.2 534.9 L975.7 533.5 L976.2 532.1 L976.7 530.7 L977.2 529.3 L977.7 527.9 L978.2 526.5 L978.7 525 L979.2 523.6 L979.8 522.2 L980.3 520.8 L980.8 519.4 L981.3 518 L981.8 516.6 L982.3 515.2 L982.8 513.7 L983.3 512.3 L983.9 510.9 L984.4 509.5 L984.9 508.1 L985.4 506.7 L985.9 505.2 L986.4 503.8 L986.9 502.4 L987.4 501 L987.9 499.6 L988.4 498.2 L988.9 496.8 L989.4 495.3 L990 493.9 L990.5 492.5 L991 491.1 L991.5 489.7 L992.1 488.3 L992.6 486.9 L993.1 485.5 L993.7 484.1 L994.2 482.7 L994.8 481.3 L995.3 479.9 L995.9 478.5 L996.4 477.1 L997 475.7 L997.5 474.3 L998 472.9 L998.5 471.5 L999.1 470.1 L999.6 468.7 L1000.1 467.2 L1000.6 465.8 L1001.1 464.4 L1001.5 463 L1002 461.5 L1002.5 460.1 L1002.9 458.7 L1003.4 457.3 L1003.8 455.8 L1004.3 454.4 L1004.7 453 L1005.2 451.5 L1005.6 450.1 L1006.1 448.6 L1006.5 447.2 L1006.9 445.8 L1007.4 444.3 L1007.8 442.9 L1008.3 441.5 L1008.7 440 L1009.2 438.6 L1009.6 437.2 L1010.1 435.7 L1010.6 434.3 L1011 432.9 L1011.5 431.5 L1012 430 L1012.5 428.6 L1013 427.2 L1013.5 425.8 L1014 424.3 L1014.5 422.9 L1015 421.5 L1015.5 420.1 L1016 418.7 L1016.5 417.3 L1017 415.9 L1017.5 414.4 L1018.1 413 L1018.6 411.6 L1019.1 410.2 L1019.7 408.8 L1020.2 407.4 L1020.8 406 L1021.3 404.6 L1021.9 403.3 L1022.5 401.9 L1023.1 400.5 L1023.6 399.1 L1024.2 397.7 L1024.8 396.3 L1025.4 394.9 L1026 393.6 L1026.6 392.2 L1027.2 390.8 L1027.8 389.4 L1028.4 388 L1029 386.7 L1029.6 385.3 L1030.2 383.9 L1030.8 382.5 L1031.4 381.1 L1031.9 379.8 L1032.5 378.4 L1033.1 377 L1033.7 375.6 L1034.2 374.2 L1034.8 372.8 L1035.4 371.4 L1035.9 370 L1036.5 368.6 L1037.1 367.2 L1037.6 365.8 L1038.2 364.5 L1038.8 363.1 L1039.4 361.7 L1039.9 360.3 L1040.5 358.9 L1041.1 357.5 L1041.7 356.1 L1042.3 354.7 L1042.9 353.4 L1043.5 352 L1044.1 350.6 L1044.7 349.3 L1045.3 347.9 L1046 346.5 L1046.7 345.2 L1047.3 343.9 L1048 342.5 L1048.8 341.2 L1049.5 339.9 L1050.2 338.6 L1051 337.3 L1051.8 336 L1052.6 334.8 L1053.4 333.5 L1054.3 332.3 L1055.1 331 L1056 329.8 L1056.9 328.6 L1057.8 327.4 L1058.7 326.2 L1059.6 325 L1060.6 323.9 L1061.5 322.7 L1062.5 321.5 L1063.4 320.4 L1064.4 319.2 L1065.3 318 L1066.3 316.9 L1067.2 315.7 L1068.2 314.5 L1069.1 313.4 L1070 312.2 L1071 311 L1071.9 309.8 L1072.8 308.6 L1073.7 307.4 L1074.6 306.2 L1075.5 305 L1076.4 303.8 L1077.3 302.6 L1078.2 301.4 L1079.1 300.2 L1079.9 299 L1080.8 297.7 L1081.7 296.5 L1082.6 295.3 L1083.5 294.1 L1084.4 292.9 L1085.3 291.7 L1086.3 290.6 L1087.2 289.4 L1088.2 288.3 L1089.2 287.1 L1090.2 286 L1091.2 284.9 L1092.2 283.8 L1093.2 282.7 L1094.2 281.6 L1095.2 280.4 L1096.2 279.3 L1097.2 278.2 L1098.2 277 L1099.1 275.9 L1100.1 274.8 L1101.1 273.6 L1102 272.5 L1103 271.3 L1104 270.2 L1105 269 L1106 267.9 L1107 266.8 L1108 265.7 L1109 264.5 L1110 263.4 L1111 262.3 L1112 261.2 L1113.1 260.1 L1114.1 259 L1115.1 257.9 L1116.1 256.8 L1117.2 255.8 L1118.2 254.7 L1119.2 253.6 L1120.3 252.5 L1121.3 251.4 L1122.3 250.3 L1123.4 249.2 L1124.4 248.1 L1125.4 247 L1126.4 245.9 L1127.5 244.8 L1128.5 243.7 L1129.5 242.6 L1130.5 241.5 L1131.6 240.4 L1132.6 239.3 L1133.6 238.2 L1134.7 237.1 L1135.7 236.1 L1136.8 235 L1137.8 233.9 L1138.9 232.8 L1139.9 231.8 L1141 230.7 L1142.1 229.6 L1143.1 228.6 L1144.2 227.6 L1145.3 226.5 L1146.4 225.5 L1147.5 224.5 L1148.6 223.5 L1149.7 222.4 L1150.8 221.4 L1152 220.4 L1153.1 219.4 L1154.2 218.4 L1155.3 217.5 L1156.5 216.5 L1157.6 215.5 L1158.7 214.5 L1159.9 213.5 L1161 212.5 L1162.1 211.5 L1163.3 210.5 L1164.4 209.6 L1165.6 208.6 L1166.7 207.6 L1167.8 206.6 L1169 205.6 L1170.1 204.7 L1171.2 203.7 L1172.4 202.7 L1173.5 201.7 L1174.7 200.7 L1175.8 199.8 L1177 198.8 L1178.1 197.8 L1179.2 196.8 L1180.4 195.9 L1181.5 194.9 L1182.7 193.9 L1183.8 192.9 L1185 192 L1186.1 191 L1187.2 190 L1188.4 189 L1189.5 188 L1190.7 187.1 L1191.8 186.1 L1193 185.1 L1194.1 184.1 L1195.2 183.2 L1196.4 182.2 L1197.5 181.2 L1198.7 180.2 L1199.8 179.3 L1200.9 178.3 L1202.1 177.3 L1203.2 176.3 L1204.4 175.3 L1205.5 174.3 L1206.6 173.4 L1207.8 172.4 L1208.9 171.4 L1210 170.4 L1211.2 169.4 L1212.3 168.5 L1213.5 167.5 L1214.6 166.5 L1215.8 165.5 L1216.9 164.6 L1218.1 163.6 L1219.2 162.7 L1220.4 161.7 L1221.6 160.8 L1222.7 159.8 L1223.9 158.9 L1225.1 157.9 L1226.3 157 L1227.4 156.1 L1228.6 155.2 L1229.8 154.2 L1231 153.3 L1232.2 152.4 L1233.4 151.5 L1234.6 150.6 L1235.8 149.7 L1237 148.8 L1238.2 147.9 L1239.4 147 L1240.6 146.1 L1241.9 145.3 L1243.1 144.4 L1244.3 143.5 L1245.5 142.6 L1246.8 141.8 L1248 140.9 L1249.3 140.1 L1250.5 139.2 L1251.7 138.4 L1253 137.6 L1254.2 136.7 L1255.5 135.9 L1256.8 135.1 L1258 134.3 L1259.3 133.5 L1260.6 132.6 L1261.8 131.8 L1263.1 131 L1264.4 130.3 L1265.7 129.5 L1266.9 128.7 L1268.2 127.9 L1269.5 127.1 L1270.8 126.3 L1272.1 125.6 L1273.4 124.8 L1274.7 124.1 L1276 123.3 L1277.3 122.6 L1278.6 121.8 L1279.9 121.1 L1281.2 120.4 L1282.6 119.7 L1283.9 119 L1285.2 118.3 L1286.5 117.6 L1287.9 116.9 L1289.2 116.2 L1290.5 115.5 L1291.9 114.8 L1293.2 114.1 L1294.6 113.5 L1295.9 112.8 L1297.3 112.2 L1298.6 111.5 L1300 110.9 L1301.4 110.2 L1302.7 109.6 L1304.1 109 L1305.5 108.4 L1306.8 107.8 L1308.2 107.2 L1309.6 106.6 L1311 106 L1312.4 105.4 L1313.8 104.9 L1315.2 104.3 L1316.6 103.8 L1318 103.2 L1319.4 102.7 L1320.8 102.1 L1322.2 101.6 L1323.6 101.1 L1325 100.5 L1326.4 100 L1327.8 99.5 L1329.2 99 L1330.6 98.4 L1332 97.9 L1333.4 97.4 L1334.9 96.9 L1336.3 96.4 L1337.7 95.9 L1339.1 95.5 L1340.6 95 L1342 94.5 L1343.4 94.1 L1344.9 93.6 L1346.3 93.2 L1347.7 92.8 L1349.2 92.3 L1350.6 91.9 L1352.1 91.5 L1353.5 91.1 L1355 90.7 L1356.4 90.3 L1357.9 89.9 L1359.3 89.5 L1360.8 89.1 L1362.2 88.8 L1363.7 88.4 L1365.1 88 L1366.5 87.7 L1368 87.3 L1369.4 87 L1370.8 86.7 L1372.3 86.4 L1373.7 86.1 L1375.3 85.8 L1376.9 85.6 L1385.5 85.8 L1388.6 88 L1389.1 93.7" fill="none" stroke="#1f5fe8" stroke-width="2" stroke-linejoin="round" stroke-linecap="round"/>
<path d="M966.5 588 L966.4 586.4 L966.5 584.8 L966.7 583.3 L966.9 581.9 L967.2 580.5 L967.6 579 L967.9 577.6 L968.2 576.2 L968.6 574.7 L968.9 573.3 L969.3 571.8 L969.6 570.4 L970 568.9 L970.4 567.4 L970.7 566 L971.1 564.5 L971.5 563.1 L971.9 561.6 L972.2 560.2 L972.6 558.7 L973 557.2 L973.3 555.8 L973.7 554.3 L974.1 552.9 L974.4 551.4 L974.8 550 L975.2 548.5 L975.6 547.1 L975.9 545.6 L976.3 544.2 L976.7 542.7 L977.1 541.3 L977.6 539.8 L978 538.4 L978.5 537 L978.9 535.5 L979.4 534.1 L979.9 532.7 L980.4 531.3 L981 529.9 L981.5 528.5 L982.1 527.1 L982.7 525.7 L983.3 524.4 L983.9 523 L984.5 521.6 L985.2 520.3 L985.8 518.9 L986.5 517.6 L987.2 516.2 L987.8 514.9 L988.5 513.5 L989.2 512.2 L989.9 510.9 L990.6 509.6 L991.3 508.2 L992 506.9 L992.7 505.6 L993.5 504.3 L994.2 503 L994.9 501.6 L995.7 500.3 L996.4 499 L997.1 497.7 L997.9 496.4 L998.6 495.1 L999.3 493.8 L1000.1 492.5 L1000.8 491.2 L1001.5 489.8 L1002.3 488.5 L1003 487.2 L1003.7 485.9 L1004.4 484.6 L1005.1 483.3 L1005.9 481.9 L1006.6 480.6 L1007.3 479.3 L1008 478 L1008.7 476.6 L1009.4 475.3 L1010.1 474 L1010.8 472.7 L1011.5 471.3 L1012.2 470 L1012.8 468.6 L1013.5 467.3 L1014.2 466 L1014.9 464.6 L1015.5 463.3 L1016.2 461.9 L1016.9 460.6 L1017.5 459.2 L1018.2 457.9 L1018.9 456.5 L1019.5 455.2 L1020.2 453.8 L1020.9 452.5 L1021.5 451.2 L1022.2 449.8 L1022.9 448.5 L1023.5 447.1 L1024.2 445.8 L1024.9 444.4 L1025.6 443.1 L1026.2 441.7 L1026.9 440.4 L1027.6 439.1 L1028.2 437.7 L1028.9 436.4 L1029.6 435 L1030.3 433.7 L1031 432.4 L1031.6 431 L1032.3 429.7 L1033 428.3 L1033.7 427 L1034.4 425.7 L1035.1 424.3 L1035.8 423 L1036.4 421.7 L1037.1 420.3 L1037.8 419 L1038.5 417.7 L1039.2 416.3 L1039.9 415 L1040.7 413.7 L1041.4 412.4 L1042.1 411.1 L1042.9 409.8 L1043.7 408.5 L1044.5 407.2 L1045.3 406 L1046.1 404.7 L1046.9 403.5 L1047.8 402.2 L1048.6 401 L1049.5 399.8 L1050.4 398.6 L1051.3 397.4 L1052.2 396.2 L1053.1 395 L1054 393.8 L1054.9 392.6 L1055.8 391.4 L1056.8 390.2 L1057.7 389 L1058.6 387.8 L1059.5 386.6 L1060.4 385.4 L1061.3 384.2 L1062.2 383 L1063.1 381.8 L1064 380.6 L1064.9 379.4 L1065.7 378.2 L1066.6 376.9 L1067.5 375.7 L1068.4 374.5 L1069.3 373.3 L1070.2 372.1 L1071.2 371 L1072.1 369.8 L1073 368.6 L1074 367.5 L1075 366.3 L1076 365.2 L1076.9 364.1 L1077.9 362.9 L1078.9 361.8 L1079.9 360.7 L1080.9 359.6 L1081.9 358.4 L1082.9 357.3 L1083.9 356.1 L1084.8 355 L1085.8 353.9 L1086.8 352.7 L1087.7 351.6 L1088.7 350.4 L1089.7 349.3 L1090.7 348.2 L1091.7 347 L1092.7 346 L1093.7 344.9 L1094.8 343.8 L1095.9 342.7 L1096.9 341.7 L1098 340.6 L1099.1 339.6 L1100.1 338.5 L1101.2 337.4 L1102.2 336.4 L1103.2 335.3 L1104.2 334.1 L1105.2 333 L1106.2 331.9 L1107.2 330.8 L1108.2 329.6 L1109.2 328.5 L1110.2 327.4 L1111.2 326.3 L1112.2 325.2 L1113.2 324.1 L1114.3 323.1 L1115.4 322 L1116.4 320.9 L1117.5 319.9 L1118.6 318.9 L1119.7 317.8 L1120.8 316.8 L1121.9 315.7 L1123 314.7 L1124 313.7 L1125.1 312.7 L1126.2 311.6 L1127.3 310.6 L1128.4 309.6 L1129.5 308.5 L1130.6 307.5 L1131.7 306.5 L1132.8 305.4 L1133.9 304.4 L1135 303.4 L1136 302.3 L1137.1 301.3 L1138.2 300.3 L1139.3 299.2 L1140.4 298.2 L1141.5 297.1 L1142.6 296.1 L1143.7 295.1 L1144.7 294 L1145.8 293 L1146.9 292 L1148 291 L1149.1 289.9 L1150.3 288.9 L1151.4 287.9 L1152.5 286.9 L1153.6 285.9 L1154.7 284.9 L1155.9 283.9 L1157 282.9 L1158.1 282 L1159.3 281 L1160.4 280 L1161.5 279 L1162.7 278.1 L1163.8 277.1 L1165 276.1 L1166.1 275.2 L1167.3 274.2 L1168.5 273.2 L1169.6 272.3 L1170.8 271.3 L1171.9 270.4 L1173.1 269.4 L1174.2 268.4 L1175.4 267.5 L1176.6 266.5 L1177.7 265.6 L1178.9 264.6 L1180.1 263.7 L1181.2 262.7 L1182.4 261.8 L1183.5 260.8 L1184.7 259.9 L1185.9 259 L1187 258 L1188.2 257.1 L1189.4 256.1 L1190.5 255.2 L1191.7 254.2 L1192.9 253.2 L1194 252.3 L1195.2 251.3 L1196.3 250.4 L1197.5 249.4 L1198.6 248.4 L1199.8 247.5 L1200.9 246.5 L1202.1 245.5 L1203.2 244.6 L1204.4 243.6 L1205.5 242.6 L1206.6 241.6 L1207.8 240.7 L1208.9 239.7 L1210.1 238.7 L1211.2 237.7 L1212.3 236.7 L1213.4 235.7 L1214.6 234.7 L1215.7 233.7 L1216.8 232.7 L1218 231.7 L1219.1 230.8 L1220.2 229.8 L1221.3 228.8 L1222.4 227.8 L1223.6 226.8 L1224.7 225.8 L1225.8 224.8 L1226.9 223.8 L1228.1 222.8 L1229.2 221.8 L1230.3 220.8 L1231.5 219.8 L1232.6 218.8 L1233.7 217.8 L1234.9 216.9 L1236 215.9 L1237.2 214.9 L1238.3 214 L1239.5 213 L1240.7 212.1 L1241.8 211.2 L1243 210.2 L1244.2 209.3 L1245.4 208.3 L1246.5 207.4 L1247.7 206.5 L1248.9 205.5 L1250 204.6 L1251.2 203.6 L1252.3 202.6 L1253.5 201.7 L1254.6 200.7 L1255.8 199.7 L1256.9 198.8 L1258.1 197.8 L1259.2 196.8 L1260.3 195.8 L1261.5 194.8 L1262.6 193.8 L1263.8 192.9 L1264.9 191.9 L1266 190.9 L1267.2 190 L1268.3 189 L1269.5 188 L1270.7 187.1 L1271.8 186.1 L1273 185.2 L1274.1 184.2 L1275.3 183.3 L1276.5 182.4 L1277.7 181.4 L1278.9 180.5 L1280.1 179.6 L1281.3 178.7 L1282.5 177.8 L1283.7 176.9 L1284.9 176 L1286.1 175.2 L1287.4 174.3 L1288.6 173.5 L1289.8 172.6 L1291.1 171.8 L1292.4 171 L1293.6 170.2 L1294.9 169.4 L1296.2 168.6 L1297.5 167.9 L1298.8 167.1 L1300.1 166.4 L1301.4 165.6 L1302.7 164.9 L1304 164.2 L1305.3 163.5 L1306.7 162.8 L1308 162.1 L1309.3 161.3 L1310.6 160.6 L1312 159.9 L1313.3 159.2 L1314.6 158.5 L1315.9 157.7 L1317.2 157 L1318.5 156.2 L1319.8 155.5 L1321.1 154.7 L1322.4 153.9 L1323.6 153.1 L1324.9 152.3 L1326.2 151.5 L1327.4 150.7 L1328.7 149.9 L1330 149.1 L1331.2 148.2 L1332.5 147.4 L1333.7 146.5 L1334.9 145.7 L1336.2 144.8 L1337.4 144 L1338.6 143.1 L1339.8 142.2 L1341.1 141.4 L1342.3 140.5 L1343.5 139.6 L1344.7 138.7 L1346 137.9 L1347.2 137 L1348.4 136.2 L1349.7 135.3 L1350.9 134.5 L1352.2 133.7 L1353.4 132.8 L1354.7 132 L1356 131.2 L1357.2 130.4 L1358.5 129.6 L1359.8 128.8 L1361.1 128.1 L1362.4 127.3 L1363.6 126.5 L1364.9 125.7 L1366.2 125 L1367.5 124.2 L1368.8 123.4 L1370.1 122.7 L1371.4 121.9 L1372.7 121.2 L1374 120.4 L1375.3 119.7 L1376.6 118.9 L1377.9 118.2 L1379.2 117.4 L1380.5 116.7 L1381.8 116 L1383.2 115.3 L1384.5 114.5 L1385.8 113.8 L1387.1 113.1 L1388.4 112.4 L1389.8 111.7 L1391.1 111 L1392.4 110.3 L1393.8 109.6 L1395.1 109 L1396.5 108.3 L1397.8 107.6 L1399.2 107 L1400.5 106.4 L1401.9 105.7 L1403.3 105.1 L1404.6 104.5 L1406 103.9 L1407.4 103.4 L1408.8 102.8 L1410.2 102.2 L1411.6 101.7 L1413 101.1 L1414.4 100.6 L1415.8 100.1 L1417.2 99.5 L1418.6 99 L1420 98.5 L1421.4 98 L1422.9 97.5 L1424.3 97 L1425.7 96.5 L1427.1 96 L1428.5 95.5 L1429.9 95 L1431.4 94.5 L1432.8 94 L1434.2 93.5 L1435.6 93 L1437 92.5 L1438.5 92.1 L1439.9 91.6 L1441.3 91.1 L1442.8 90.7 L1444.2 90.3 L1445.6 89.8 L1447.1 89.4 L1448.5 89 L1449.9 88.7 L1451.4 88.3 L1452.8 88 L1454.2 87.7 L1455.7 87.5 L1457.1 87.2 L1458.7 87 L1460.3 86.7 L1465.4 88 L1469.2 89.9" fill="none" stroke="#2f9a58" stroke-width="2" stroke-linejoin="round" stroke-linecap="round"/>
<path d="M966.5 588 L966.7 586.4 L966.9 584.8 L967.2 583.4 L967.4 581.9 L967.7 580.5 L968.1 579.1 L968.4 577.6 L968.7 576.2 L969 574.7 L969.3 573.3 L969.6 571.8 L969.9 570.3 L970.3 568.9 L970.6 567.4 L970.9 565.9 L971.2 564.5 L971.6 563 L971.9 561.5 L972.3 560.1 L972.6 558.6 L973 557.2 L973.3 555.7 L973.7 554.3 L974.1 552.8 L974.5 551.4 L974.8 549.9 L975.3 548.5 L975.7 547 L976.1 545.6 L976.5 544.2 L977 542.7 L977.5 541.3 L977.9 539.9 L978.4 538.5 L978.9 537 L979.4 535.6 L979.9 534.2 L980.4 532.8 L981 531.4 L981.5 530 L982 528.6 L982.5 527.2 L983.1 525.8 L983.6 524.4 L984.1 522.9 L984.6 521.5 L985.1 520.1 L985.6 518.7 L986.1 517.3 L986.6 515.9 L987.1 514.5 L987.6 513 L988.1 511.6 L988.6 510.2 L989.1 508.8 L989.6 507.4 L990.1 506 L990.5 504.5 L991 503.1 L991.5 501.7 L992 500.3 L992.5 498.9 L993 497.5 L993.5 496 L994 494.6 L994.6 493.2 L995.1 491.8 L995.6 490.4 L996.2 489 L996.7 487.6 L997.3 486.2 L997.8 484.8 L998.4 483.4 L999 482.1 L999.6 480.7 L1000.2 479.3 L1000.8 477.9 L1001.4 476.6 L1002.1 475.2 L1002.7 473.9 L1003.3 472.5 L1004 471.1 L1004.6 469.8 L1005.2 468.4 L1005.8 467 L1006.4 465.7 L1007 464.3 L1007.6 462.9 L1008.2 461.5 L1008.8 460.1 L1009.4 458.8 L1010 457.4 L1010.5 456 L1011.1 454.6 L1011.7 453.2 L1012.3 451.8 L1012.8 450.4 L1013.4 449.1 L1014 447.7 L1014.6 446.3 L1015.2 444.9 L1015.8 443.5 L1016.4 442.2 L1017 440.8 L1017.6 439.4 L1018.2 438 L1018.8 436.7 L1019.4 435.3 L1020 433.9 L1020.6 432.6 L1021.3 431.2 L1021.9 429.8 L1022.5 428.5 L1023.2 427.1 L1023.8 425.8 L1024.4 424.4 L1025.1 423 L1025.8 421.7 L1026.4 420.4 L1027.1 419 L1027.8 417.7 L1028.5 416.4 L1029.2 415 L1029.9 413.7 L1030.6 412.4 L1031.3 411.1 L1032.1 409.8 L1032.8 408.5 L1033.6 407.2 L1034.3 405.9 L1035.1 404.6 L1035.8 403.3 L1036.6 402 L1037.4 400.7 L1038.1 399.4 L1038.9 398.1 L1039.7 396.8 L1040.5 395.6 L1041.3 394.3 L1042.1 393 L1042.8 391.7 L1043.6 390.5 L1044.4 389.2 L1045.2 387.9 L1046 386.6 L1046.9 385.4 L1047.7 384.1 L1048.5 382.9 L1049.3 381.6 L1050.1 380.3 L1050.9 379.1 L1051.7 377.8 L1052.5 376.5 L1053.3 375.3 L1054.1 374 L1054.9 372.7 L1055.7 371.4 L1056.5 370.2 L1057.3 368.9 L1058.1 367.6 L1058.8 366.3 L1059.6 365 L1060.4 363.8 L1061.2 362.5 L1062 361.2 L1062.8 359.9 L1063.6 358.7 L1064.4 357.4 L1065.2 356.1 L1066 354.9 L1066.9 353.7 L1067.7 352.4 L1068.6 351.2 L1069.5 350 L1070.4 348.8 L1071.3 347.6 L1072.3 346.5 L1073.3 345.3 L1074.3 344.2 L1075.3 343.1 L1076.3 342 L1077.4 341 L1078.4 339.9 L1079.5 338.9 L1080.6 337.9 L1081.7 336.9 L1082.8 335.9 L1084 334.9 L1085.1 333.9 L1086.2 332.9 L1087.3 331.9 L1088.4 330.9 L1089.6 329.9 L1090.7 328.9 L1091.7 327.8 L1092.8 326.8 L1093.9 325.7 L1095 324.7 L1096 323.6 L1097.1 322.6 L1098.2 321.5 L1099.2 320.5 L1100.3 319.4 L1101.4 318.4 L1102.5 317.3 L1103.5 316.3 L1104.6 315.3 L1105.7 314.2 L1106.9 313.2 L1108 312.3 L1109.1 311.3 L1110.3 310.3 L1111.4 309.4 L1112.6 308.4 L1113.8 307.5 L1115 306.6 L1116.1 305.6 L1117.3 304.7 L1118.5 303.8 L1119.6 302.8 L1120.8 301.9 L1122 300.9 L1123.1 300 L1124.3 299 L1125.4 298 L1126.6 297.1 L1127.7 296.1 L1128.9 295.1 L1130 294.1 L1131.1 293.2 L1132.3 292.2 L1133.4 291.2 L1134.6 290.2 L1135.7 289.3 L1136.8 288.3 L1138 287.3 L1139.1 286.4 L1140.3 285.4 L1141.5 284.4 L1142.6 283.5 L1143.8 282.5 L1144.9 281.6 L1146.1 280.6 L1147.3 279.7 L1148.4 278.8 L1149.6 277.8 L1150.8 276.9 L1152 275.9 L1153.1 275 L1154.3 274.1 L1155.5 273.1 L1156.7 272.2 L1157.8 271.3 L1159 270.3 L1160.2 269.4 L1161.3 268.4 L1162.5 267.5 L1163.6 266.5 L1164.8 265.6 L1165.9 264.6 L1167.1 263.6 L1168.2 262.7 L1169.4 261.7 L1170.5 260.7 L1171.7 259.7 L1172.8 258.8 L1173.9 257.8 L1175.1 256.8 L1176.2 255.8 L1177.4 254.9 L1178.5 253.9 L1179.7 252.9 L1180.8 252 L1182 251 L1183.1 250.1 L1184.3 249.1 L1185.5 248.1 L1186.6 247.2 L1187.8 246.3 L1188.9 245.3 L1190.1 244.4 L1191.3 243.4 L1192.5 242.5 L1193.6 241.5 L1194.8 240.6 L1196 239.7 L1197.2 238.7 L1198.3 237.8 L1199.5 236.9 L1200.7 236 L1201.9 235 L1203 234.1 L1204.2 233.2 L1205.4 232.2 L1206.6 231.3 L1207.8 230.4 L1209 229.5 L1210.2 228.6 L1211.3 227.6 L1212.5 226.7 L1213.7 225.8 L1214.9 224.9 L1216.1 224 L1217.3 223.1 L1218.5 222.2 L1219.7 221.3 L1220.9 220.3 L1222.1 219.4 L1223.3 218.5 L1224.5 217.6 L1225.7 216.7 L1226.8 215.8 L1228 214.9 L1229.2 214 L1230.4 213.1 L1231.7 212.2 L1232.9 211.3 L1234.1 210.4 L1235.3 209.5 L1236.5 208.6 L1237.7 207.7 L1238.9 206.8 L1240.1 206 L1241.3 205.1 L1242.5 204.2 L1243.8 203.3 L1245 202.5 L1246.2 201.6 L1247.4 200.7 L1248.7 199.9 L1249.9 199.1 L1251.2 198.2 L1252.4 197.4 L1253.7 196.6 L1254.9 195.7 L1256.2 194.9 L1257.4 194.1 L1258.7 193.2 L1259.9 192.4 L1261.2 191.6 L1262.4 190.8 L1263.7 189.9 L1264.9 189.1 L1266.2 188.3 L1267.4 187.4 L1268.7 186.6 L1269.9 185.8 L1271.2 184.9 L1272.4 184.1 L1273.7 183.3 L1274.9 182.4 L1276.2 181.6 L1277.4 180.8 L1278.7 179.9 L1279.9 179.1 L1281.2 178.3 L1282.4 177.4 L1283.7 176.6 L1284.9 175.7 L1286.1 174.9 L1287.4 174.1 L1288.7 173.3 L1289.9 172.4 L1291.2 171.6 L1292.4 170.8 L1293.7 170 L1295 169.2 L1296.3 168.4 L1297.5 167.6 L1298.8 166.9 L1300.1 166.1 L1301.4 165.3 L1302.7 164.5 L1304 163.8 L1305.3 163 L1306.6 162.3 L1307.9 161.6 L1309.2 160.8 L1310.5 160.1 L1311.8 159.4 L1313.1 158.7 L1314.5 157.9 L1315.8 157.2 L1317.1 156.5 L1318.4 155.8 L1319.8 155.1 L1321.1 154.5 L1322.4 153.8 L1323.8 153.1 L1325.1 152.4 L1326.4 151.7 L1327.8 151 L1329.1 150.4 L1330.5 149.7 L1331.8 149 L1333.2 148.4 L1334.5 147.7 L1335.9 147 L1337.2 146.4 L1338.6 145.7 L1339.9 145.1 L1341.3 144.5 L1342.6 143.8 L1344 143.2 L1345.4 142.6 L1346.7 141.9 L1348.1 141.3 L1349.5 140.7 L1350.8 140.1 L1352.2 139.5 L1353.6 138.9 L1355 138.3 L1356.3 137.7 L1357.7 137.1 L1359.1 136.5 L1360.5 135.9 L1361.9 135.4 L1363.2 134.8 L1364.6 134.2 L1366 133.6 L1367.4 133 L1368.8 132.4 L1370.2 131.8 L1371.5 131.3 L1372.9 130.7 L1374.3 130.1 L1375.7 129.5 L1377.1 128.9 L1378.5 128.4 L1379.9 127.8 L1381.2 127.2 L1382.6 126.6 L1384 126.1 L1385.4 125.5 L1386.8 124.9 L1388.2 124.4 L1389.6 123.8 L1391 123.3 L1392.4 122.7 L1393.8 122.2 L1395.2 121.6 L1396.6 121.1 L1398 120.5 L1399.4 120 L1400.8 119.4 L1402.2 118.9 L1403.6 118.4 L1405 117.8 L1406.4 117.3 L1407.8 116.8 L1409.2 116.2 L1410.6 115.7 L1412 115.2 L1413.4 114.7 L1414.8 114.2 L1416.2 113.7 L1417.6 113.2 L1419.1 112.7 L1420.5 112.2 L1421.9 111.8 L1423.3 111.3 L1424.8 110.9 L1426.2 110.5 L1427.6 110.1 L1429.1 109.7 L1430.5 109.4 L1432 109.1 L1433.4 108.9 L1434.8 108.7 L1436.3 108.6 L1437.8 108.6 L1439.4 108.5 L1441 108.5" fill="none" stroke="#bf68f2" stroke-width="2" stroke-linejoin="round" stroke-linecap="round"/>
<path d="M966.5 588 L966.7 586.4 L966.8 584.8 L967 583.3 L967.2 581.9 L967.5 580.4 L967.7 579 L968 577.6 L968.2 576.1 L968.5 574.6 L968.7 573.2 L969 571.7 L969.3 570.2 L969.6 568.8 L969.8 567.3 L970.1 565.8 L970.4 564.3 L970.7 562.9 L971 561.4 L971.3 559.9 L971.6 558.5 L971.9 557 L972.2 555.5 L972.5 554.1 L972.9 552.6 L973.2 551.1 L973.5 549.7 L973.9 548.2 L974.3 546.8 L974.6 545.3 L975 543.8 L975.4 542.4 L975.8 540.9 L976.2 539.5 L976.6 538.1 L977 536.6 L977.4 535.2 L977.8 533.7 L978.2 532.3 L978.7 530.9 L979.1 529.4 L979.5 528 L979.9 526.5 L980.4 525.1 L980.8 523.7 L981.2 522.2 L981.7 520.8 L982.1 519.4 L982.5 517.9 L983 516.5 L983.4 515.1 L983.8 513.6 L984.3 512.2 L984.7 510.7 L985.1 509.3 L985.6 507.9 L986 506.4 L986.5 505 L986.9 503.6 L987.4 502.2 L987.8 500.7 L988.3 499.3 L988.8 497.9 L989.2 496.4 L989.7 495 L990.2 493.6 L990.7 492.2 L991.2 490.8 L991.7 489.3 L992.2 487.9 L992.7 486.5 L993.2 485.1 L993.7 483.7 L994.2 482.3 L994.8 480.9 L995.3 479.5 L995.9 478.1 L996.4 476.7 L997 475.3 L997.5 473.9 L998 472.5 L998.6 471.1 L999.1 469.7 L999.7 468.3 L1000.2 466.9 L1000.7 465.5 L1001.2 464.1 L1001.7 462.7 L1002.2 461.3 L1002.7 459.9 L1003.2 458.4 L1003.7 457 L1004.2 455.6 L1004.7 454.2 L1005.2 452.8 L1005.7 451.4 L1006.2 450 L1006.7 448.5 L1007.2 447.1 L1007.7 445.7 L1008.3 444.3 L1008.8 442.9 L1009.3 441.5 L1009.9 440.1 L1010.5 438.8 L1011.1 437.4 L1011.7 436 L1012.3 434.6 L1012.9 433.3 L1013.6 431.9 L1014.2 430.6 L1014.9 429.2 L1015.5 427.9 L1016.2 426.5 L1016.9 425.2 L1017.6 423.9 L1018.3 422.5 L1019 421.2 L1019.6 419.9 L1020.3 418.5 L1021 417.2 L1021.7 415.9 L1022.4 414.5 L1023 413.2 L1023.7 411.8 L1024.4 410.5 L1025.1 409.2 L1025.7 407.8 L1026.4 406.5 L1027.1 405.1 L1027.8 403.8 L1028.4 402.5 L1029.1 401.1 L1029.8 399.8 L1030.4 398.4 L1031.1 397.1 L1031.8 395.8 L1032.5 394.4 L1033.1 393.1 L1033.8 391.7 L1034.5 390.4 L1035.2 389.1 L1035.8 387.7 L1036.5 386.4 L1037.2 385 L1037.8 383.7 L1038.5 382.3 L1039.2 381 L1039.9 379.7 L1040.5 378.3 L1041.2 377 L1041.9 375.7 L1042.6 374.3 L1043.3 373 L1044 371.7 L1044.7 370.4 L1045.5 369.1 L1046.3 367.8 L1047 366.5 L1047.8 365.2 L1048.6 364 L1049.5 362.8 L1050.3 361.5 L1051.2 360.3 L1052.1 359.1 L1053 357.9 L1054 356.8 L1054.9 355.6 L1055.9 354.4 L1056.8 353.3 L1057.8 352.2 L1058.8 351.1 L1059.8 349.9 L1060.8 348.8 L1061.9 347.7 L1062.9 346.6 L1063.9 345.5 L1064.9 344.4 L1065.9 343.3 L1067 342.2 L1068 341.1 L1069 340 L1070 338.9 L1071 337.8 L1072 336.7 L1073 335.6 L1074 334.4 L1075 333.3 L1076 332.2 L1077.1 331.2 L1078.1 330.1 L1079.1 329 L1080.2 327.9 L1081.2 326.8 L1082.3 325.8 L1083.3 324.7 L1084.4 323.6 L1085.4 322.5 L1086.4 321.5 L1087.5 320.4 L1088.5 319.3 L1089.5 318.2 L1090.6 317.1 L1091.6 316 L1092.7 315 L1093.7 313.9 L1094.8 312.9 L1095.9 311.9 L1097.1 310.9 L1098.2 310 L1099.4 309.1 L1100.6 308.1 L1101.8 307.2 L1103 306.3 L1104.1 305.4 L1105.3 304.5 L1106.5 303.6 L1107.7 302.6 L1108.8 301.7 L1109.9 300.7 L1111.1 299.7 L1112.1 298.7 L1113.2 297.6 L1114.3 296.6 L1115.3 295.5 L1116.4 294.4 L1117.4 293.4 L1118.5 292.3 L1119.5 291.2 L1120.6 290.2 L1121.7 289.2 L1122.8 288.1 L1123.9 287.1 L1125 286.1 L1126.1 285.1 L1127.2 284.1 L1128.3 283.1 L1129.5 282.1 L1130.6 281.2 L1131.8 280.2 L1132.9 279.2 L1134.1 278.2 L1135.2 277.3 L1136.4 276.3 L1137.5 275.4 L1138.7 274.4 L1139.8 273.4 L1141 272.5 L1142.1 271.5 L1143.3 270.6 L1144.4 269.6 L1145.6 268.7 L1146.8 267.7 L1147.9 266.8 L1149.1 265.9 L1150.3 264.9 L1151.4 264 L1152.6 263 L1153.8 262.1 L1155 261.2 L1156.1 260.2 L1157.3 259.3 L1158.5 258.4 L1159.7 257.5 L1160.9 256.5 L1162 255.6 L1163.2 254.7 L1164.4 253.8 L1165.6 252.9 L1166.8 251.9 L1168 251 L1169.2 250.1 L1170.4 249.2 L1171.6 248.3 L1172.8 247.4 L1173.9 246.5 L1175.1 245.6 L1176.3 244.7 L1177.5 243.7 L1178.7 242.8 L1179.8 241.9 L1181 240.9 L1182.2 240 L1183.3 239 L1184.5 238 L1185.6 237.1 L1186.7 236.1 L1187.9 235.1 L1189 234.1 L1190.1 233.1 L1191.2 232.1 L1192.3 231.1 L1193.4 230 L1194.5 229 L1195.6 228 L1196.7 227 L1197.9 226 L1199 225 L1200.1 224 L1201.2 223 L1202.3 222 L1203.5 221 L1204.6 220.1 L1205.8 219.1 L1206.9 218.1 L1208 217.2 L1209.2 216.2 L1210.3 215.2 L1211.5 214.3 L1212.6 213.3 L1213.8 212.3 L1214.9 211.4 L1216.1 210.4 L1217.3 209.5 L1218.4 208.5 L1219.6 207.6 L1220.7 206.6 L1221.9 205.7 L1223 204.7 L1224.2 203.8 L1225.4 202.8 L1226.5 201.9 L1227.7 200.9 L1228.9 200 L1230.1 199.1 L1231.2 198.1 L1232.4 197.2 L1233.6 196.3 L1234.8 195.4 L1236 194.4 L1237.2 193.5 L1238.4 192.6 L1239.5 191.7 L1240.7 190.8 L1241.9 189.9 L1243.1 189 L1244.4 188.1 L1245.6 187.2 L1246.8 186.3 L1248 185.5 L1249.2 184.6 L1250.4 183.7 L1251.6 182.8 L1252.9 182 L1254.1 181.1 L1255.3 180.3 L1256.6 179.4 L1257.8 178.6 L1259 177.7 L1260.3 176.9 L1261.5 176.1 L1262.8 175.3 L1264.1 174.5 L1265.3 173.7 L1266.6 172.9 L1267.9 172.1 L1269.2 171.3 L1270.5 170.5 L1271.8 169.8 L1273 169 L1274.3 168.2 L1275.6 167.5 L1276.9 166.7 L1278.2 165.9 L1279.5 165.2 L1280.8 164.4 L1282.1 163.6 L1283.3 162.9 L1284.6 162.1 L1285.9 161.3 L1287.2 160.6 L1288.5 159.8 L1289.8 159 L1291.1 158.3 L1292.4 157.6 L1293.7 156.8 L1295 156.1 L1296.3 155.4 L1297.7 154.7 L1299 153.9 L1300.3 153.2 L1301.6 152.5 L1302.9 151.8 L1304.3 151.1 L1305.6 150.4 L1306.9 149.7 L1308.2 149 L1309.6 148.3 L1310.9 147.6 L1312.2 146.9 L1313.5 146.2 L1314.9 145.5 L1316.2 144.8 L1317.5 144.1 L1318.8 143.4 L1320.2 142.7 L1321.5 142 L1322.8 141.2 L1324.1 140.5 L1325.5 139.8 L1326.8 139.1 L1328.1 138.4 L1329.4 137.7 L1330.7 137 L1332.1 136.3 L1333.4 135.5 L1334.7 134.8 L1336 134.1 L1337.3 133.3 L1338.6 132.6 L1339.9 131.8 L1341.1 131 L1342.4 130.3 L1343.7 129.5 L1345 128.7 L1346.3 128 L1347.6 127.3 L1348.9 126.5 L1350.3 125.8 L1351.6 125.1 L1352.9 124.5 L1354.3 123.8 L1355.6 123.2 L1357 122.5 L1358.3 121.9 L1359.7 121.3 L1361.1 120.7 L1362.5 120.1 L1363.8 119.5 L1365.2 118.9 L1366.6 118.3 L1368 117.8 L1369.4 117.2 L1370.8 116.6 L1372.2 116.1 L1373.6 115.5 L1375 115 L1376.4 114.5 L1377.8 113.9 L1379.2 113.4 L1380.6 112.9 L1382 112.4 L1383.4 111.9 L1384.8 111.4 L1386.3 110.9 L1387.7 110.5 L1389.1 110 L1390.5 109.5 L1392 109.1 L1393.4 108.6 L1394.8 108.2 L1396.3 107.8 L1397.7 107.4 L1399.1 106.9 L1400.6 106.5 L1402 106.1 L1403.5 105.7 L1404.9 105.4 L1406.4 105 L1407.8 104.6 L1409.3 104.2 L1410.7 103.9 L1412.2 103.5 L1413.7 103.2 L1415.1 102.9 L1416.6 102.5 L1418.1 102.2 L1419.5 101.9 L1421 101.6 L1422.5 101.3 L1423.9 101 L1425.4 100.7 L1426.9 100.4 L1428.3 100.1 L1429.8 99.8 L1431.3 99.6 L1432.8 99.3 L1434.2 99.1 L1435.7 98.8 L1437.2 98.6 L1438.7 98.4 L1440.2 98.2 L1441.7 98 L1443.1 97.8 L1444.6 97.6 L1446.1 97.5 L1447.6 97.3 L1449.1 97.2 L1450.6 97.1 L1452.1 97 L1453.5 97 L1455 96.9 L1456.5 96.9 L1457.9 96.9 L1459.4 96.9 L1460.9 96.9 L1462.5 96.9 L1464.1 96.9" fill="none" stroke="#d89c0c" stroke-width="2" stroke-linejoin="round" stroke-linecap="round"/>
<path d="M966.5 588 L966.4 586.4 L966.4 584.8 L966.5 583.3 L966.6 581.8 L966.8 580.4 L967 578.9 L967.2 577.5 L967.4 576 L967.6 574.6 L967.8 573.1 L968 571.6 L968.2 570.1 L968.5 568.6 L968.7 567.1 L968.9 565.7 L969.2 564.2 L969.4 562.7 L969.7 561.2 L969.9 559.7 L970.2 558.3 L970.5 556.8 L970.8 555.3 L971.1 553.9 L971.5 552.4 L971.8 550.9 L972.2 549.5 L972.6 548 L973 546.6 L973.4 545.2 L973.9 543.7 L974.3 542.3 L974.8 540.9 L975.3 539.5 L975.8 538 L976.3 536.6 L976.8 535.2 L977.3 533.8 L977.8 532.4 L978.3 530.9 L978.7 529.5 L979.2 528.1 L979.7 526.7 L980.2 525.3 L980.7 523.8 L981.2 522.4 L981.6 521 L982.1 519.6 L982.6 518.1 L983 516.7 L983.5 515.3 L984 513.9 L984.5 512.4 L984.9 511 L985.4 509.6 L985.9 508.2 L986.4 506.7 L986.8 505.3 L987.3 503.9 L987.8 502.5 L988.3 501.1 L988.8 499.6 L989.3 498.2 L989.8 496.8 L990.4 495.4 L990.9 494 L991.4 492.6 L992 491.2 L992.5 489.8 L993.1 488.4 L993.6 487 L994.1 485.6 L994.7 484.2 L995.2 482.8 L995.8 481.4 L996.3 480 L996.8 478.6 L997.4 477.2 L997.9 475.8 L998.4 474.4 L998.9 473 L999.4 471.5 L999.9 470.1 L1000.4 468.7 L1000.9 467.3 L1001.3 465.9 L1001.8 464.4 L1002.3 463 L1002.7 461.6 L1003.2 460.1 L1003.7 458.7 L1004.1 457.3 L1004.6 455.9 L1005.1 454.4 L1005.5 453 L1006 451.6 L1006.5 450.2 L1007 448.8 L1007.5 447.3 L1008 445.9 L1008.6 444.5 L1009.1 443.1 L1009.7 441.7 L1010.2 440.3 L1010.8 439 L1011.4 437.6 L1012 436.2 L1012.6 434.8 L1013.2 433.5 L1013.9 432.1 L1014.5 430.7 L1015.1 429.4 L1015.8 428 L1016.5 426.7 L1017.1 425.3 L1017.8 424 L1018.5 422.7 L1019.2 421.3 L1019.8 420 L1020.5 418.7 L1021.2 417.3 L1021.9 416 L1022.6 414.7 L1023.3 413.3 L1024.1 412 L1024.8 410.7 L1025.5 409.4 L1026.2 408.1 L1027 406.8 L1027.7 405.5 L1028.4 404.2 L1029.2 402.8 L1029.9 401.5 L1030.7 400.2 L1031.4 398.9 L1032.2 397.6 L1032.9 396.3 L1033.7 395.1 L1034.5 393.8 L1035.2 392.5 L1036 391.2 L1036.8 389.9 L1037.6 388.6 L1038.4 387.3 L1039.1 386.1 L1039.9 384.8 L1040.7 383.5 L1041.5 382.2 L1042.3 381 L1043.1 379.7 L1044 378.4 L1044.8 377.2 L1045.6 375.9 L1046.4 374.7 L1047.3 373.4 L1048.1 372.2 L1048.9 370.9 L1049.8 369.7 L1050.7 368.5 L1051.6 367.3 L1052.5 366.1 L1053.4 364.9 L1054.3 363.7 L1055.2 362.6 L1056.2 361.4 L1057.2 360.2 L1058.1 359.1 L1059.1 358 L1060.1 356.8 L1061 355.7 L1062 354.5 L1062.9 353.3 L1063.8 352.1 L1064.7 350.9 L1065.6 349.7 L1066.5 348.5 L1067.3 347.3 L1068.2 346 L1069 344.8 L1069.9 343.6 L1070.7 342.3 L1071.6 341.1 L1072.5 339.9 L1073.3 338.7 L1074.2 337.5 L1075.2 336.4 L1076.1 335.4 L1077.1 334.4 L1078.1 333.5 L1079.2 332.7 L1080.3 332.1 L1081.4 331.5 L1082.6 330.9 L1083.8 330.4 L1085 329.9 L1086.2 329.4 L1087.5 328.8 L1088.7 328.2 L1089.9 327.5 L1091.1 326.7 L1092.2 325.8 L1093.4 325 L1094.6 324 L1095.7 323.1 L1096.8 322.1 L1097.9 321.1 L1099 320.1 L1100.1 319 L1101.2 318 L1102.3 317 L1103.4 315.9 L1104.5 314.9 L1105.5 313.8 L1106.6 312.8 L1107.7 311.7 L1108.8 310.7 L1109.8 309.7 L1110.9 308.6 L1112 307.6 L1113.1 306.5 L1114.2 305.5 L1115.2 304.4 L1116.3 303.4 L1117.4 302.4 L1118.5 301.3 L1119.6 300.3 L1120.7 299.3 L1121.8 298.3 L1122.9 297.3 L1124.1 296.3 L1125.2 295.3 L1126.3 294.3 L1127.4 293.3 L1128.6 292.3 L1129.7 291.3 L1130.8 290.3 L1132 289.4 L1133.1 288.4 L1134.3 287.4 L1135.4 286.4 L1136.5 285.5 L1137.7 284.5 L1138.8 283.5 L1140 282.5 L1141.1 281.6 L1142.3 280.6 L1143.4 279.6 L1144.5 278.6 L1145.7 277.7 L1146.8 276.7 L1148 275.7 L1149.1 274.7 L1150.2 273.8 L1151.4 272.8 L1152.5 271.8 L1153.7 270.8 L1154.8 269.9 L1156 268.9 L1157.1 267.9 L1158.3 267 L1159.4 266 L1160.6 265 L1161.7 264.1 L1162.9 263.1 L1164.1 262.2 L1165.2 261.2 L1166.4 260.3 L1167.6 259.4 L1168.7 258.4 L1169.9 257.5 L1171.1 256.6 L1172.3 255.6 L1173.4 254.7 L1174.6 253.7 L1175.8 252.8 L1177 251.9 L1178.1 250.9 L1179.3 250 L1180.5 249 L1181.6 248.1 L1182.8 247.1 L1183.9 246.2 L1185.1 245.2 L1186.2 244.2 L1187.4 243.2 L1188.5 242.2 L1189.6 241.3 L1190.7 240.3 L1191.9 239.3 L1193 238.3 L1194.1 237.3 L1195.2 236.3 L1196.4 235.3 L1197.5 234.3 L1198.6 233.3 L1199.7 232.2 L1200.8 231.2 L1201.9 230.2 L1203 229.2 L1204.1 228.2 L1205.2 227.2 L1206.4 226.2 L1207.5 225.2 L1208.6 224.2 L1209.7 223.1 L1210.8 222.1 L1211.9 221.1 L1213 220.1 L1214.2 219.1 L1215.3 218.2 L1216.4 217.2 L1217.6 216.2 L1218.7 215.2 L1219.9 214.3 L1221 213.3 L1222.2 212.4 L1223.4 211.4 L1224.5 210.5 L1225.7 209.6 L1226.9 208.7 L1228.1 207.8 L1229.3 206.9 L1230.6 206 L1231.8 205.2 L1233 204.3 L1234.3 203.5 L1235.6 202.7 L1236.8 201.9 L1238.1 201.1 L1239.4 200.4 L1240.7 199.6 L1242 198.8 L1243.3 198.1 L1244.6 197.4 L1245.9 196.6 L1247.2 195.9 L1248.5 195.2 L1249.9 194.4 L1251.2 193.7 L1252.5 193 L1253.8 192.3 L1255.2 191.7 L1256.5 191 L1257.8 190.4 L1259.2 189.7 L1260.5 189.1 L1261.9 188.5 L1263.2 188 L1264.6 187.4 L1265.9 186.7 L1267.2 186.1 L1268.5 185.4 L1269.8 184.7 L1271.1 183.9 L1272.3 183.2 L1273.6 182.4 L1274.9 181.6 L1276.1 180.8 L1277.4 180 L1278.7 179.2 L1280 178.5 L1281.3 177.7 L1282.6 177 L1283.9 176.3 L1285.2 175.6 L1286.6 174.9 L1287.9 174.2 L1289.2 173.4 L1290.5 172.7 L1291.9 172 L1293.2 171.3 L1294.5 170.6 L1295.8 169.9 L1297.2 169.2 L1298.5 168.5 L1299.8 167.8 L1301.1 167.1 L1302.5 166.4 L1303.8 165.7 L1305.1 165 L1306.5 164.3 L1307.8 163.6 L1309.1 163 L1310.5 162.3 L1311.8 161.7 L1313.2 161 L1314.6 160.4 L1315.9 159.8 L1317.3 159.1 L1318.7 158.5 L1320 157.9 L1321.4 157.3 L1322.8 156.7 L1324.2 156.1 L1325.5 155.5 L1326.9 154.9 L1328.3 154.3 L1329.7 153.7 L1331.1 153.1 L1332.4 152.6 L1333.8 152 L1335.2 151.4 L1336.6 150.8 L1338 150.2 L1339.4 149.6 L1340.7 149 L1342.1 148.4 L1343.5 147.8 L1344.9 147.2 L1346.2 146.6 L1347.6 146 L1349 145.4 L1350.4 144.8 L1351.8 144.3 L1353.1 143.7 L1354.5 143.1 L1355.9 142.5 L1357.3 141.9 L1358.7 141.4 L1360.1 140.8 L1361.5 140.2 L1362.9 139.7 L1364.2 139.1 L1365.6 138.5 L1367 138 L1368.4 137.4 L1369.8 136.9 L1371.2 136.3 L1372.6 135.8 L1374 135.2 L1375.4 134.7 L1376.8 134.2 L1378.2 133.6 L1379.6 133.1 L1381 132.6 L1382.5 132.1 L1383.9 131.5 L1385.3 131 L1386.7 130.5 L1388.1 130 L1389.5 129.5 L1390.9 129 L1392.4 128.5 L1393.8 128 L1395.2 127.6 L1396.6 127.1 L1398.1 126.6 L1399.5 126.2 L1400.9 125.7 L1402.3 125.2 L1403.8 124.8 L1405.2 124.4 L1406.7 123.9 L1408.1 123.5 L1409.5 123.1 L1411 122.7 L1412.4 122.3 L1413.9 121.9 L1415.3 121.5 L1416.8 121.1 L1418.2 120.7 L1419.7 120.3 L1421.1 119.9 L1422.6 119.5 L1424 119.2 L1425.5 118.8 L1426.9 118.4 L1428.4 118.1 L1429.9 117.7 L1431.3 117.4 L1432.8 117 L1434.2 116.7 L1435.7 116.3 L1437.2 116 L1438.6 115.6 L1440.1 115.3 L1441.5 114.9 L1443 114.6 L1444.5 114.3 L1445.9 114 L1447.4 113.7 L1448.9 113.4 L1450.4 113.1 L1451.8 112.8 L1453.3 112.5 L1454.7 112.2 L1456.2 112 L1457.7 111.7 L1459.1 111.5 L1460.6 111.4 L1462 111.2 L1463.5 111.1 L1465.1 110.9 L1466.7 110.8 L1480 110.8 L1484 113.5 L1485.3 121.9" fill="none" stroke="#19c6cc" stroke-width="2" stroke-linejoin="round" stroke-linecap="round"/>
<rect x="1495.5" y="332" width="186.5" height="207" fill="#fff"/>
<line x1="1499" y1="350.2" x2="1561" y2="350.2" stroke="#ff3333" stroke-width="2.4"/>
<text x="1566" y="359.7" font-family='"Liberation Serif", "Noto Serif CJK SC", serif' font-size="28" text-anchor="start" fill="#000" >Position 1</text>
<line x1="1499" y1="384" x2="1561" y2="384" stroke="#1f5fe8" stroke-width="2.4"/>
<text x="1566" y="393.5" font-family='"Liberation Serif", "Noto Serif CJK SC", serif' font-size="28" text-anchor="start" fill="#000" >Position 2</text>
<line x1="1499" y1="417.8" x2="1561" y2="417.8" stroke="#2f9a58" stroke-width="2.4"/>
<text x="1566" y="427.3" font-family='"Liberation Serif", "Noto Serif CJK SC", serif' font-size="28" text-anchor="start" fill="#000" >Position 3</text>
<line x1="1499" y1="451.6" x2="1561" y2="451.6" stroke="#bf68f2" stroke-width="2.4"/>
<text x="1566" y="461.1" font-family='"Liberation Serif", "Noto Serif CJK SC", serif' font-size="28" text-anchor="start" fill="#000" >Position 4</text>
<line x1="1499" y1="485.3" x2="1561" y2="485.3" stroke="#d89c0c" stroke-width="2.4"/>
<text x="1566" y="494.8" font-family='"Liberation Serif", "Noto Serif CJK SC", serif' font-size="28" text-anchor="start" fill="#000" >Position 5</text>
<line x1="1499" y1="519" x2="1561" y2="519" stroke="#19c6cc" stroke-width="2.4"/>
<text x="1566" y="528.5" font-family='"Liberation Serif", "Noto Serif CJK SC", serif' font-size="28" text-anchor="start" fill="#000" >Position 6</text>
<text x="1244.3" y="666" font-family='"Liberation Serif", "Noto Serif CJK SC", serif' font-size="30" text-anchor="start" fill="#000" >Strain <tspan font-weight="300" font-size="27" dx="1">（</tspan><tspan font-size="31" dx="0.5">%</tspan><tspan font-weight="300" font-size="27" dx="5.5">）</tspan></text>
<text transform="translate(884 275.8) rotate(-90)" font-family='"Liberation Serif", "Noto Serif CJK SC", serif' font-size="31.5" text-anchor="middle">Streess<tspan font-weight="300" font-size="27" dx="5.9">（</tspan>MPa<tspan font-weight="300" font-size="27">）</tspan></text>
<text x="973.5" y="39" font-family='"Liberation Sans", "Noto Sans CJK SC", sans-serif' font-size="30" text-anchor="start" fill="#000" letter-spacing="2.6">(b)</text>
<text x="1686" y="38" font-family='"Liberation Serif", "Noto Serif CJK SC", serif' font-size="30.5" text-anchor="end" fill="#000" >Electric field treated</text>
<rect x="151.5" y="1136.6" width="36" height="153.9" fill="url(#gO)" stroke="#222" stroke-width="1.3"/>
<rect x="187.5" y="893.6" width="36" height="396.9" fill="url(#gB)" stroke="#222" stroke-width="1.3"/>
<rect x="241.3" y="838.1" width="36" height="452.4" fill="url(#gO)" stroke="#222" stroke-width="1.3"/>
<rect x="277.3" y="1017.4" width="36" height="273.1" fill="url(#gB)" stroke="#222" stroke-width="1.3"/>
<rect x="331.1" y="986.2" width="36" height="304.3" fill="url(#gO)" stroke="#222" stroke-width="1.3"/>
<rect x="367.1" y="1127.4" width="36" height="163.1" fill="url(#gB)" stroke="#222" stroke-width="1.3"/>
<rect x="420.9" y="922.6" width="36" height="367.9" fill="url(#gO)" stroke="#222" stroke-width="1.3"/>
<rect x="456.9" y="876.3" width="36" height="414.2" fill="url(#gB)" stroke="#222" stroke-width="1.3"/>
<rect x="510.7" y="945.7" width="36" height="344.8" fill="url(#gO)" stroke="#222" stroke-width="1.3"/>
<rect x="546.7" y="891.9" width="36" height="398.6" fill="url(#gB)" stroke="#222" stroke-width="1.3"/>
<rect x="600.5" y="931.8" width="36" height="358.7" fill="url(#gO)" stroke="#222" stroke-width="1.3"/>
<rect x="636.5" y="861.3" width="36" height="429.2" fill="url(#gB)" stroke="#222" stroke-width="1.3"/>
<line x1="198.2" y1="1207.4" x2="266.6" y2="1223.6" stroke="#008a00" stroke-width="2"/>
<line x1="288.2" y1="1224.9" x2="356.2" y2="1217.2" stroke="#008a00" stroke-width="2"/>
<line x1="377.7" y1="1219" x2="446.3" y2="1238.5" stroke="#008a00" stroke-width="2"/>
<line x1="467.8" y1="1239.9" x2="535.8" y2="1229.6" stroke="#008a00" stroke-width="2"/>
<line x1="557.7" y1="1227" x2="625.5" y2="1220.7" stroke="#008a00" stroke-width="2"/>
<line x1="198.5" y1="876.5" x2="266.3" y2="879.5" stroke="#0000ff" stroke-width="2"/>
<line x1="287.2" y1="875.1" x2="357.2" y2="840.9" stroke="#0000ff" stroke-width="2"/>
<line x1="378.1" y1="836.4" x2="445.9" y2="838.4" stroke="#0000ff" stroke-width="2"/>
<line x1="467.7" y1="841" x2="535.9" y2="855.8" stroke="#0000ff" stroke-width="2"/>
<line x1="557.6" y1="856.8" x2="625.6" y2="848.3" stroke="#0000ff" stroke-width="2"/>
<line x1="198.3" y1="1203.9" x2="266.5" y2="1191" stroke="#ff00ff" stroke-width="2"/>
<line x1="288.1" y1="1190.8" x2="356.3" y2="1202.4" stroke="#ff00ff" stroke-width="2"/>
<line x1="378.1" y1="1205.1" x2="445.9" y2="1211" stroke="#ff00ff" stroke-width="2"/>
<line x1="467.9" y1="1211.3" x2="535.7" y2="1207" stroke="#ff00ff" stroke-width="2"/>
<line x1="557.7" y1="1206.8" x2="625.5" y2="1209.5" stroke="#ff00ff" stroke-width="2"/>
<line x1="198.5" y1="845.6" x2="266.3" y2="847.2" stroke="#8000ff" stroke-width="2"/>
<line x1="283.8" y1="856.3" x2="360.6" y2="960.1" stroke="#8000ff" stroke-width="2"/>
<line x1="375.4" y1="961.7" x2="448.6" y2="898" stroke="#8000ff" stroke-width="2"/>
<line x1="467.8" y1="889.2" x2="535.8" y2="879.3" stroke="#8000ff" stroke-width="2"/>
<line x1="557.7" y1="878.2" x2="625.5" y2="881.3" stroke="#8000ff" stroke-width="2"/>
<rect x="181.2" y="1198.6" width="12.5" height="12.5" fill="#008a00"/>
<rect x="271.1" y="1219.9" width="12.5" height="12.5" fill="#008a00"/>
<rect x="360.8" y="1209.7" width="12.5" height="12.5" fill="#008a00"/>
<rect x="450.6" y="1235.3" width="12.5" height="12.5" fill="#008a00"/>
<rect x="540.5" y="1221.8" width="12.5" height="12.5" fill="#008a00"/>
<rect x="630.2" y="1213.5" width="12.5" height="12.5" fill="#008a00"/>
<circle cx="187.5" cy="876" r="6.6" fill="#0000ff"/>
<circle cx="277.3" cy="880" r="6.6" fill="#0000ff"/>
<circle cx="367.1" cy="836.1" r="6.6" fill="#0000ff"/>
<circle cx="456.9" cy="838.7" r="6.6" fill="#0000ff"/>
<circle cx="546.7" cy="858.1" r="6.6" fill="#0000ff"/>
<circle cx="636.5" cy="847" r="6.6" fill="#0000ff"/>
<polygon points="187.5,1196.6 179,1212.1 196,1212.1" fill="#ff00ff"/>
<polygon points="277.3,1179.7 268.8,1195.2 285.8,1195.2" fill="#ff00ff"/>
<polygon points="367.1,1194.9 358.6,1210.4 375.6,1210.4" fill="#ff00ff"/>
<polygon points="456.9,1202.7 448.4,1218.2 465.4,1218.2" fill="#ff00ff"/>
<polygon points="546.7,1197 538.2,1212.5 555.2,1212.5" fill="#ff00ff"/>
<polygon points="636.5,1200.7 628,1216.2 645,1216.2" fill="#ff00ff"/>
<polygon points="187.5,836.1 196,845.4 187.5,854.6 179,845.4" fill="#8000ff"/>
<polygon points="277.3,838.2 285.8,847.4 277.3,856.7 268.8,847.4" fill="#8000ff"/>
<polygon points="367.1,959.7 375.6,969 367.1,978.2 358.6,969" fill="#8000ff"/>
<polygon points="456.9,881.5 465.4,890.8 456.9,900 448.4,890.8" fill="#8000ff"/>
<polygon points="546.7,868.5 555.2,877.7 546.7,887 538.2,877.7" fill="#8000ff"/>
<polygon points="636.5,872.5 645,881.8 636.5,891 628,881.8" fill="#8000ff"/>
<rect x="97.5" y="711" width="676.5" height="579.5" fill="none" stroke="#000" stroke-width="2.2"/>
<text x="85.5" y="1298.5" font-family='"Liberation Serif", "Noto Serif CJK SC", serif' font-size="24.5" text-anchor="end" fill="#000" >0</text>
<line x1="97.5" y1="1261.6" x2="103.5" y2="1261.6" stroke="#000" stroke-width="2"/>
<line x1="97.5" y1="1232.7" x2="109.5" y2="1232.7" stroke="#000" stroke-width="2"/>
<text x="85.5" y="1240.7" font-family='"Liberation Serif", "Noto Serif CJK SC", serif' font-size="24.5" text-anchor="end" fill="#000" >5</text>
<line x1="97.5" y1="1203.7" x2="103.5" y2="1203.7" stroke="#000" stroke-width="2"/>
<line x1="97.5" y1="1174.8" x2="109.5" y2="1174.8" stroke="#000" stroke-width="2"/>
<text x="85.5" y="1182.8" font-family='"Liberation Serif", "Noto Serif CJK SC", serif' font-size="24.5" text-anchor="end" fill="#000" >10</text>
<line x1="97.5" y1="1145.9" x2="103.5" y2="1145.9" stroke="#000" stroke-width="2"/>
<line x1="97.5" y1="1117" x2="109.5" y2="1117" stroke="#000" stroke-width="2"/>
<text x="85.5" y="1125" font-family='"Liberation Serif", "Noto Serif CJK SC", serif' font-size="24.5" text-anchor="end" fill="#000" >15</text>
<line x1="97.5" y1="1088" x2="103.5" y2="1088" stroke="#000" stroke-width="2"/>
<line x1="97.5" y1="1059.1" x2="109.5" y2="1059.1" stroke="#000" stroke-width="2"/>
<text x="85.5" y="1067.1" font-family='"Liberation Serif", "Noto Serif CJK SC", serif' font-size="24.5" text-anchor="end" fill="#000" >20</text>
<line x1="97.5" y1="1030.2" x2="103.5" y2="1030.2" stroke="#000" stroke-width="2"/>
<line x1="97.5" y1="1001.2" x2="109.5" y2="1001.2" stroke="#000" stroke-width="2"/>
<text x="85.5" y="1009.2" font-family='"Liberation Serif", "Noto Serif CJK SC", serif' font-size="24.5" text-anchor="end" fill="#000" >25</text>
<line x1="97.5" y1="972.3" x2="103.5" y2="972.3" stroke="#000" stroke-width="2"/>
<line x1="97.5" y1="943.4" x2="109.5" y2="943.4" stroke="#000" stroke-width="2"/>
<text x="85.5" y="951.4" font-family='"Liberation Serif", "Noto Serif CJK SC", serif' font-size="24.5" text-anchor="end" fill="#000" >30</text>
<line x1="97.5" y1="914.5" x2="103.5" y2="914.5" stroke="#000" stroke-width="2"/>
<line x1="97.5" y1="885.5" x2="109.5" y2="885.5" stroke="#000" stroke-width="2"/>
<text x="85.5" y="893.5" font-family='"Liberation Serif", "Noto Serif CJK SC", serif' font-size="24.5" text-anchor="end" fill="#000" >35</text>
<line x1="97.5" y1="856.6" x2="103.5" y2="856.6" stroke="#000" stroke-width="2"/>
<line x1="97.5" y1="827.7" x2="109.5" y2="827.7" stroke="#000" stroke-width="2"/>
<text x="85.5" y="835.7" font-family='"Liberation Serif", "Noto Serif CJK SC", serif' font-size="24.5" text-anchor="end" fill="#000" >40</text>
<line x1="97.5" y1="798.8" x2="103.5" y2="798.8" stroke="#000" stroke-width="2"/>
<line x1="97.5" y1="769.9" x2="109.5" y2="769.9" stroke="#000" stroke-width="2"/>
<text x="85.5" y="777.9" font-family='"Liberation Serif", "Noto Serif CJK SC", serif' font-size="24.5" text-anchor="end" fill="#000" >45</text>
<line x1="97.5" y1="740.9" x2="103.5" y2="740.9" stroke="#000" stroke-width="2"/>
<text x="85.5" y="720" font-family='"Liberation Serif", "Noto Serif CJK SC", serif' font-size="24.5" text-anchor="end" fill="#000" >50</text>
<line x1="774" y1="1246" x2="762" y2="1246" stroke="#000" stroke-width="2"/>
<text x="782.5" y="1257" font-family='"Liberation Serif", "Noto Serif CJK SC", serif' font-size="24.5" text-anchor="start" fill="#000" >100</text>
<line x1="774" y1="1201.4" x2="768" y2="1201.4" stroke="#000" stroke-width="2"/>
<line x1="774" y1="1156.8" x2="762" y2="1156.8" stroke="#000" stroke-width="2"/>
<text x="782.5" y="1167.8" font-family='"Liberation Serif", "Noto Serif CJK SC", serif' font-size="24.5" text-anchor="start" fill="#000" >200</text>
<line x1="774" y1="1112.3" x2="768" y2="1112.3" stroke="#000" stroke-width="2"/>
<line x1="774" y1="1067.7" x2="762" y2="1067.7" stroke="#000" stroke-width="2"/>
<text x="782.5" y="1078.7" font-family='"Liberation Serif", "Noto Serif CJK SC", serif' font-size="24.5" text-anchor="start" fill="#000" >300</text>
<line x1="774" y1="1023.1" x2="768" y2="1023.1" stroke="#000" stroke-width="2"/>
<line x1="774" y1="978.5" x2="762" y2="978.5" stroke="#000" stroke-width="2"/>
<text x="782.5" y="989.5" font-family='"Liberation Serif", "Noto Serif CJK SC", serif' font-size="24.5" text-anchor="start" fill="#000" >400</text>
<line x1="774" y1="933.9" x2="768" y2="933.9" stroke="#000" stroke-width="2"/>
<line x1="774" y1="889.3" x2="762" y2="889.3" stroke="#000" stroke-width="2"/>
<text x="782.5" y="900.3" font-family='"Liberation Serif", "Noto Serif CJK SC", serif' font-size="24.5" text-anchor="start" fill="#000" >500</text>
<line x1="774" y1="844.8" x2="768" y2="844.8" stroke="#000" stroke-width="2"/>
<line x1="774" y1="800.2" x2="762" y2="800.2" stroke="#000" stroke-width="2"/>
<text x="782.5" y="811.2" font-family='"Liberation Serif", "Noto Serif CJK SC", serif' font-size="24.5" text-anchor="start" fill="#000" >600</text>
<line x1="774" y1="755.6" x2="768" y2="755.6" stroke="#000" stroke-width="2"/>
<text x="782.5" y="722" font-family='"Liberation Serif", "Noto Serif CJK SC", serif' font-size="24.5" text-anchor="start" fill="#000" >700</text>
<text x="187.5" y="1322.5" font-family='"Liberation Serif", "Noto Serif CJK SC", serif' font-size="24.5" text-anchor="middle" fill="#000" >1</text>
<text x="277.3" y="1322.5" font-family='"Liberation Serif", "Noto Serif CJK SC", serif' font-size="24.5" text-anchor="middle" fill="#000" >2</text>
<text x="367.1" y="1322.5" font-family='"Liberation Serif", "Noto Serif CJK SC", serif' font-size="24.5" text-anchor="middle" fill="#000" >3</text>
<text x="456.9" y="1322.5" font-family='"Liberation Serif", "Noto Serif CJK SC", serif' font-size="24.5" text-anchor="middle" fill="#000" >4</text>
<text x="546.7" y="1322.5" font-family='"Liberation Serif", "Noto Serif CJK SC", serif' font-size="24.5" text-anchor="middle" fill="#000" >5</text>
<text x="636.5" y="1322.5" font-family='"Liberation Serif", "Noto Serif CJK SC", serif' font-size="24.5" text-anchor="middle" fill="#000" >6</text>
<text x="407.5" y="1357.5" font-family='"Liberation Serif", "Noto Serif CJK SC", serif' font-size="30" text-anchor="middle" fill="#000" >Position</text>
<text transform="translate(47 1001.3) rotate(-90)" font-family='"Liberation Serif", "Noto Serif CJK SC", serif' font-size="29.6" text-anchor="middle">EL <tspan font-weight="300" font-size="27" dx="3.8">（</tspan>%<tspan font-weight="300" font-size="27">）</tspan></text>
<text transform="translate(857.5 1000.75) rotate(-90)" font-family='"Liberation Serif", "Noto Serif CJK SC", serif' font-size="31.5" text-anchor="middle">Stress<tspan font-weight="300" font-size="27" dx="10.5">（</tspan>MPa<tspan font-weight="300" font-size="27">）</tspan></text>
<text x="105" y="739" font-family='"Liberation Sans", "Noto Sans CJK SC", sans-serif' font-size="30" text-anchor="start" fill="#000" letter-spacing="2.6">(c)</text>
<rect x="167.6" y="760.3" width="41.6" height="20.7" fill="url(#gO)" stroke="#222" stroke-width="1.3"/>
<rect x="167.6" y="784.5" width="41.6" height="20.7" fill="url(#gB)" stroke="#222" stroke-width="1.3"/>
<text x="214.5" y="777" font-family='"Liberation Serif", "Noto Serif CJK SC", serif' font-size="18.8" text-anchor="start" fill="#000" >A<tspan dx="1.5">s-prepared EL</tspan></text>
<text x="214" y="801" font-family='"Liberation Serif", "Noto Serif CJK SC", serif' font-size="19.2" text-anchor="start" fill="#000" >Electric field treated EL</text>
<line x1="428" y1="731.3" x2="440" y2="731.3" stroke="#008a00" stroke-width="2"/>
<line x1="458" y1="731.3" x2="472" y2="731.3" stroke="#008a00" stroke-width="2"/>
<rect x="442.9" y="725" width="12.5" height="12.5" fill="#008a00"/>
<text x="476" y="737.8" font-family='"Liberation Serif", "Noto Serif CJK SC", serif' font-size="19.2" text-anchor="start" fill="#000" >Electric field treated yield strength</text>
<line x1="428" y1="755.4" x2="440" y2="755.4" stroke="#0000ff" stroke-width="2"/>
<line x1="458" y1="755.4" x2="472" y2="755.4" stroke="#0000ff" stroke-width="2"/>
<circle cx="449.2" cy="755.4" r="6.6" fill="#0000ff"/>
<text x="476" y="761.9" font-family='"Liberation Serif", "Noto Serif CJK SC", serif' font-size="19.2" text-anchor="start" fill="#000" >Electric field treated tensile strength</text>
<line x1="428" y1="779.6" x2="440" y2="779.6" stroke="#ff00ff" stroke-width="2"/>
<line x1="458" y1="779.6" x2="472" y2="779.6" stroke="#ff00ff" stroke-width="2"/>
<polygon points="449.2,770.3 440.7,785.8 457.7,785.8" fill="#ff00ff"/>
<text x="476" y="786.1" font-family='"Liberation Serif", "Noto Serif CJK SC", serif' font-size="18.9" text-anchor="start" fill="#000" >A<tspan dx="2.5">s-prepared yield strength</tspan></text>
<line x1="428" y1="803.8" x2="440" y2="803.8" stroke="#8000ff" stroke-width="2"/>
<line x1="458" y1="803.8" x2="472" y2="803.8" stroke="#8000ff" stroke-width="2"/>
<polygon points="449.2,794.5 457.7,803.8 449.2,813 440.7,803.8" fill="#8000ff"/>
<text x="476" y="810.2" font-family='"Liberation Serif", "Noto Serif CJK SC", serif' font-size="18.9" text-anchor="start" fill="#000" >A<tspan dx="2.5">s-prepared tensile strength</tspan></text>
<rect x="979" y="729.5" width="735" height="590" fill="url(#gD)"/>
<line x1="1040.2" y1="1156.6" x2="1040.2" y2="947.3" stroke="#e8600c" stroke-width="1.6"/>
<line x1="1034.8" y1="1156.6" x2="1045.8" y2="1156.6" stroke="#e8600c" stroke-width="1.6"/>
<line x1="1034.8" y1="947.3" x2="1045.8" y2="947.3" stroke="#e8600c" stroke-width="1.6"/>
<line x1="1162.8" y1="1072.9" x2="1162.8" y2="963.6" stroke="#e8600c" stroke-width="1.6"/>
<line x1="1157.2" y1="1072.9" x2="1168.2" y2="1072.9" stroke="#e8600c" stroke-width="1.6"/>
<line x1="1157.2" y1="963.6" x2="1168.2" y2="963.6" stroke="#e8600c" stroke-width="1.6"/>
<line x1="1285.2" y1="1131.6" x2="1285.2" y2="930.7" stroke="#e8600c" stroke-width="1.6"/>
<line x1="1279.8" y1="1131.6" x2="1290.8" y2="1131.6" stroke="#e8600c" stroke-width="1.6"/>
<line x1="1279.8" y1="930.7" x2="1290.8" y2="930.7" stroke="#e8600c" stroke-width="1.6"/>
<line x1="1407.8" y1="1065.9" x2="1407.8" y2="1045.6" stroke="#e8600c" stroke-width="1.6"/>
<line x1="1402.2" y1="1065.9" x2="1413.2" y2="1065.9" stroke="#e8600c" stroke-width="1.6"/>
<line x1="1402.2" y1="1045.6" x2="1413.2" y2="1045.6" stroke="#e8600c" stroke-width="1.6"/>
<line x1="1530.2" y1="1264.5" x2="1530.2" y2="1034.9" stroke="#e8600c" stroke-width="1.6"/>
<line x1="1524.8" y1="1264.5" x2="1535.8" y2="1264.5" stroke="#e8600c" stroke-width="1.6"/>
<line x1="1524.8" y1="1034.9" x2="1535.8" y2="1034.9" stroke="#e8600c" stroke-width="1.6"/>
<line x1="1652.8" y1="1180.5" x2="1652.8" y2="838.5" stroke="#e8600c" stroke-width="1.6"/>
<line x1="1647.2" y1="1180.5" x2="1658.2" y2="1180.5" stroke="#e8600c" stroke-width="1.6"/>
<line x1="1647.2" y1="838.5" x2="1658.2" y2="838.5" stroke="#e8600c" stroke-width="1.6"/>
<line x1="1040.2" y1="954.9" x2="1040.2" y2="793.3" stroke="#7272c2" stroke-width="1.6"/>
<line x1="1034.8" y1="954.9" x2="1045.8" y2="954.9" stroke="#7272c2" stroke-width="1.6"/>
<line x1="1034.8" y1="793.3" x2="1045.8" y2="793.3" stroke="#7272c2" stroke-width="1.6"/>
<line x1="1162.8" y1="1015" x2="1162.8" y2="883.5" stroke="#7272c2" stroke-width="1.6"/>
<line x1="1157.2" y1="1015" x2="1168.2" y2="1015" stroke="#7272c2" stroke-width="1.6"/>
<line x1="1157.2" y1="883.5" x2="1168.2" y2="883.5" stroke="#7272c2" stroke-width="1.6"/>
<line x1="1285.2" y1="1232.2" x2="1285.2" y2="1016.7" stroke="#7272c2" stroke-width="1.6"/>
<line x1="1279.8" y1="1232.2" x2="1290.8" y2="1232.2" stroke="#7272c2" stroke-width="1.6"/>
<line x1="1279.8" y1="1016.7" x2="1290.8" y2="1016.7" stroke="#7272c2" stroke-width="1.6"/>
<line x1="1407.8" y1="1131.6" x2="1407.8" y2="1103.8" stroke="#7272c2" stroke-width="1.6"/>
<line x1="1402.2" y1="1131.6" x2="1413.2" y2="1131.6" stroke="#7272c2" stroke-width="1.6"/>
<line x1="1402.2" y1="1103.8" x2="1413.2" y2="1103.8" stroke="#7272c2" stroke-width="1.6"/>
<line x1="1530.2" y1="1248.2" x2="1530.2" y2="1090.3" stroke="#7272c2" stroke-width="1.6"/>
<line x1="1524.8" y1="1248.2" x2="1535.8" y2="1248.2" stroke="#7272c2" stroke-width="1.6"/>
<line x1="1524.8" y1="1090.3" x2="1535.8" y2="1090.3" stroke="#7272c2" stroke-width="1.6"/>
<line x1="1652.8" y1="1171" x2="1652.8" y2="1056.9" stroke="#7272c2" stroke-width="1.6"/>
<line x1="1647.2" y1="1171" x2="1658.2" y2="1171" stroke="#7272c2" stroke-width="1.6"/>
<line x1="1647.2" y1="1056.9" x2="1658.2" y2="1056.9" stroke="#7272c2" stroke-width="1.6"/>
<rect x="1034" y="1044.4" width="12.5" height="12.5" fill="#e8600c"/>
<rect x="1156.5" y="1012.4" width="12.5" height="12.5" fill="#e8600c"/>
<rect x="1279" y="1023.9" width="12.5" height="12.5" fill="#e8600c"/>
<rect x="1401.5" y="1049.8" width="12.5" height="12.5" fill="#e8600c"/>
<rect x="1524" y="1143.1" width="12.5" height="12.5" fill="#e8600c"/>
<rect x="1646.5" y="1002.6" width="12.5" height="12.5" fill="#e8600c"/>
<polygon points="1040.2,864.1 1032.5,878.6 1048,878.6" fill="#7272c2"/>
<polygon points="1162.8,940.5 1155,955 1170.5,955" fill="#7272c2"/>
<polygon points="1285.2,1114.2 1277.5,1128.7 1293,1128.7" fill="#7272c2"/>
<polygon points="1407.8,1108.9 1400,1123.4 1415.5,1123.4" fill="#7272c2"/>
<polygon points="1530.2,1160.6 1522.5,1175.1 1538,1175.1" fill="#7272c2"/>
<polygon points="1652.8,1103.2 1645,1117.7 1660.5,1117.7" fill="#7272c2"/>
<rect x="979" y="729.5" width="735" height="590" fill="none" stroke="#111" stroke-width="2.2"/>
<line x1="979" y1="1291.5" x2="991" y2="1291.5" stroke="#000" stroke-width="2"/>
<text x="966" y="1302.8" font-family='"Liberation Sans", "Noto Sans CJK SC", sans-serif' font-size="33" text-anchor="end" fill="#000" >100</text>
<line x1="979" y1="1263.4" x2="985" y2="1263.4" stroke="#000" stroke-width="2"/>
<line x1="979" y1="1235.3" x2="991" y2="1235.3" stroke="#000" stroke-width="2"/>
<text x="966" y="1246.6" font-family='"Liberation Sans", "Noto Sans CJK SC", sans-serif' font-size="33" text-anchor="end" fill="#000" >120</text>
<line x1="979" y1="1207.2" x2="985" y2="1207.2" stroke="#000" stroke-width="2"/>
<line x1="979" y1="1179.1" x2="991" y2="1179.1" stroke="#000" stroke-width="2"/>
<text x="966" y="1190.4" font-family='"Liberation Sans", "Noto Sans CJK SC", sans-serif' font-size="33" text-anchor="end" fill="#000" >140</text>
<line x1="979" y1="1151" x2="985" y2="1151" stroke="#000" stroke-width="2"/>
<line x1="979" y1="1122.9" x2="991" y2="1122.9" stroke="#000" stroke-width="2"/>
<text x="966" y="1134.2" font-family='"Liberation Sans", "Noto Sans CJK SC", sans-serif' font-size="33" text-anchor="end" fill="#000" >160</text>
<line x1="979" y1="1094.8" x2="985" y2="1094.8" stroke="#000" stroke-width="2"/>
<line x1="979" y1="1066.7" x2="991" y2="1066.7" stroke="#000" stroke-width="2"/>
<text x="966" y="1078" font-family='"Liberation Sans", "Noto Sans CJK SC", sans-serif' font-size="33" text-anchor="end" fill="#000" >180</text>
<line x1="979" y1="1038.6" x2="985" y2="1038.6" stroke="#000" stroke-width="2"/>
<line x1="979" y1="1010.5" x2="991" y2="1010.5" stroke="#000" stroke-width="2"/>
<text x="966" y="1021.8" font-family='"Liberation Sans", "Noto Sans CJK SC", sans-serif' font-size="33" text-anchor="end" fill="#000" >200</text>
<line x1="979" y1="982.4" x2="985" y2="982.4" stroke="#000" stroke-width="2"/>
<line x1="979" y1="954.3" x2="991" y2="954.3" stroke="#000" stroke-width="2"/>
<text x="966" y="965.6" font-family='"Liberation Sans", "Noto Sans CJK SC", sans-serif' font-size="33" text-anchor="end" fill="#000" >220</text>
<line x1="979" y1="926.2" x2="985" y2="926.2" stroke="#000" stroke-width="2"/>
<line x1="979" y1="898.1" x2="991" y2="898.1" stroke="#000" stroke-width="2"/>
<text x="966" y="909.4" font-family='"Liberation Sans", "Noto Sans CJK SC", sans-serif' font-size="33" text-anchor="end" fill="#000" >240</text>
<line x1="979" y1="870" x2="985" y2="870" stroke="#000" stroke-width="2"/>
<line x1="979" y1="841.9" x2="991" y2="841.9" stroke="#000" stroke-width="2"/>
<text x="966" y="853.2" font-family='"Liberation Sans", "Noto Sans CJK SC", sans-serif' font-size="33" text-anchor="end" fill="#000" >260</text>
<line x1="979" y1="813.8" x2="985" y2="813.8" stroke="#000" stroke-width="2"/>
<line x1="979" y1="785.7" x2="991" y2="785.7" stroke="#000" stroke-width="2"/>
<text x="966" y="797" font-family='"Liberation Sans", "Noto Sans CJK SC", sans-serif' font-size="33" text-anchor="end" fill="#000" >280</text>
<line x1="979" y1="757.6" x2="985" y2="757.6" stroke="#000" stroke-width="2"/>
<text x="966" y="740.8" font-family='"Liberation Sans", "Noto Sans CJK SC", sans-serif' font-size="33" text-anchor="end" fill="#000" >300</text>
<line x1="1040.2" y1="1319.5" x2="1040.2" y2="1308.5" stroke="#000" stroke-width="2"/>
<text x="1044.8" y="1357" font-family='"Liberation Sans", "Noto Sans CJK SC", sans-serif' font-size="33" text-anchor="middle" fill="#000" >T1#</text>
<line x1="1162.8" y1="1319.5" x2="1162.8" y2="1308.5" stroke="#000" stroke-width="2"/>
<text x="1167.2" y="1357" font-family='"Liberation Sans", "Noto Sans CJK SC", sans-serif' font-size="33" text-anchor="middle" fill="#000" >T2#</text>
<line x1="1285.2" y1="1319.5" x2="1285.2" y2="1308.5" stroke="#000" stroke-width="2"/>
<text x="1289.8" y="1357" font-family='"Liberation Sans", "Noto Sans CJK SC", sans-serif' font-size="33" text-anchor="middle" fill="#000" >M1#</text>
<line x1="1407.8" y1="1319.5" x2="1407.8" y2="1308.5" stroke="#000" stroke-width="2"/>
<text x="1412.2" y="1357" font-family='"Liberation Sans", "Noto Sans CJK SC", sans-serif' font-size="33" text-anchor="middle" fill="#000" >M2#</text>
<line x1="1530.2" y1="1319.5" x2="1530.2" y2="1308.5" stroke="#000" stroke-width="2"/>
<text x="1534.8" y="1357" font-family='"Liberation Sans", "Noto Sans CJK SC", sans-serif' font-size="33" text-anchor="middle" fill="#000" >B1#</text>
<line x1="1652.8" y1="1319.5" x2="1652.8" y2="1308.5" stroke="#000" stroke-width="2"/>
<text x="1657.2" y="1357" font-family='"Liberation Sans", "Noto Sans CJK SC", sans-serif' font-size="33" text-anchor="middle" fill="#000" >B2#</text>
<text transform="translate(899 1022.5) rotate(-90)" font-family='"Liberation Sans", "Noto Sans CJK SC", sans-serif' font-size="32" text-anchor="middle">Hardness<tspan font-weight="300" dx="2">（</tspan>HV<tspan font-weight="300">）</tspan></text>
<text x="991" y="765" font-family='"Liberation Sans", "Noto Sans CJK SC", sans-serif' font-size="30" text-anchor="start" fill="#000" letter-spacing="2.6">(d)</text>
<rect x="1549.7" y="752.7" width="12" height="12" fill="#e8600c"/>
<polygon points="1557,783.3 1549.2,797.8 1564.8,797.8" fill="#7272c2"/>
<text x="1596" y="768.5" font-family='"Liberation Sans", "Noto Sans CJK SC", sans-serif' font-size="27" text-anchor="start" fill="#000" >Edge</text>
<text x="1596" y="802.5" font-family='"Liberation Sans", "Noto Sans CJK SC", sans-serif' font-size="27" text-anchor="start" fill="#000" >Center</text>
</svg></body></html>
